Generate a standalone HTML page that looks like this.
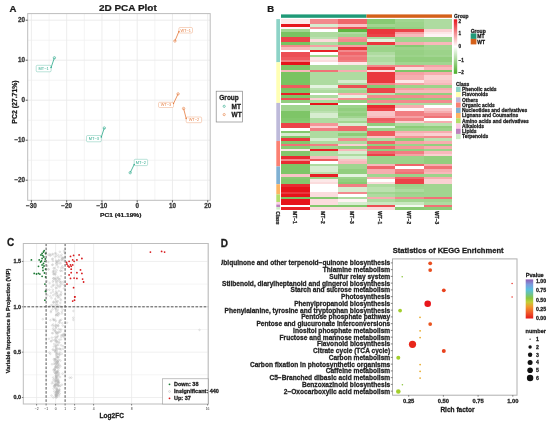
<!DOCTYPE html>
<html><head><meta charset="utf-8"><style>
html,body{margin:0;padding:0;background:#fff;}
svg{display:block;will-change:transform;font-family:"Liberation Sans", sans-serif;}
</style></head><body>
<svg width="550" height="422" viewBox="0 0 550 422">
<rect width="550" height="422" fill="#fff"/>
<g transform="translate(9.50,9.30) scale(1,0.92)">
<text x="0.00" y="3.46" font-size="9.6" font-weight="bold" text-anchor="start" fill="#1a1a1a" stroke="#1a1a1a" stroke-width="0.26" >A</text>
</g>
<g transform="translate(98.90,8.10) scale(1,0.85)">
<text x="0.00" y="3.60" font-size="10" font-weight="bold" text-anchor="start" fill="#1a1a1a" stroke="#1a1a1a" stroke-width="0.26" >2D PCA Plot</text>
</g>
<rect x="27.70" y="13.60" width="182.50" height="186.70" fill="#ffffff" stroke="none" stroke-width="1" />
<line x1="49.05" y1="13.60" x2="49.05" y2="200.30" stroke="#f1f1f1" stroke-width="0.8" />
<line x1="84.31" y1="13.60" x2="84.31" y2="200.30" stroke="#f1f1f1" stroke-width="0.8" />
<line x1="119.57" y1="13.60" x2="119.57" y2="200.30" stroke="#f1f1f1" stroke-width="0.8" />
<line x1="154.83" y1="13.60" x2="154.83" y2="200.30" stroke="#f1f1f1" stroke-width="0.8" />
<line x1="190.09" y1="13.60" x2="190.09" y2="200.30" stroke="#f1f1f1" stroke-width="0.8" />
<line x1="27.70" y1="160.20" x2="210.20" y2="160.20" stroke="#f1f1f1" stroke-width="0.8" />
<line x1="27.70" y1="120.20" x2="210.20" y2="120.20" stroke="#f1f1f1" stroke-width="0.8" />
<line x1="27.70" y1="80.20" x2="210.20" y2="80.20" stroke="#f1f1f1" stroke-width="0.8" />
<line x1="27.70" y1="40.20" x2="210.20" y2="40.20" stroke="#f1f1f1" stroke-width="0.8" />
<line x1="31.42" y1="13.60" x2="31.42" y2="200.30" stroke="#ebebeb" stroke-width="0.9" />
<line x1="66.68" y1="13.60" x2="66.68" y2="200.30" stroke="#ebebeb" stroke-width="0.9" />
<line x1="101.94" y1="13.60" x2="101.94" y2="200.30" stroke="#ebebeb" stroke-width="0.9" />
<line x1="137.20" y1="13.60" x2="137.20" y2="200.30" stroke="#ebebeb" stroke-width="0.9" />
<line x1="172.46" y1="13.60" x2="172.46" y2="200.30" stroke="#ebebeb" stroke-width="0.9" />
<line x1="207.72" y1="13.60" x2="207.72" y2="200.30" stroke="#ebebeb" stroke-width="0.9" />
<line x1="27.70" y1="180.20" x2="210.20" y2="180.20" stroke="#ebebeb" stroke-width="0.9" />
<line x1="27.70" y1="140.20" x2="210.20" y2="140.20" stroke="#ebebeb" stroke-width="0.9" />
<line x1="27.70" y1="100.20" x2="210.20" y2="100.20" stroke="#ebebeb" stroke-width="0.9" />
<line x1="27.70" y1="60.20" x2="210.20" y2="60.20" stroke="#ebebeb" stroke-width="0.9" />
<line x1="27.70" y1="20.20" x2="210.20" y2="20.20" stroke="#ebebeb" stroke-width="0.9" />
<rect x="27.70" y="13.60" width="182.50" height="186.70" fill="none" stroke="#bdbdbd" stroke-width="1.0" />
<line x1="31.42" y1="200.30" x2="31.42" y2="202.30" stroke="#333" stroke-width="0.8" />
<text x="31.42" y="208.27" font-size="6.3" font-weight="bold" text-anchor="middle" fill="#333" stroke="#333" stroke-width="0.26" >−30</text>
<line x1="66.68" y1="200.30" x2="66.68" y2="202.30" stroke="#333" stroke-width="0.8" />
<text x="66.68" y="208.27" font-size="6.3" font-weight="bold" text-anchor="middle" fill="#333" stroke="#333" stroke-width="0.26" >−20</text>
<line x1="101.94" y1="200.30" x2="101.94" y2="202.30" stroke="#333" stroke-width="0.8" />
<text x="101.94" y="208.27" font-size="6.3" font-weight="bold" text-anchor="middle" fill="#333" stroke="#333" stroke-width="0.26" >−10</text>
<line x1="137.20" y1="200.30" x2="137.20" y2="202.30" stroke="#333" stroke-width="0.8" />
<text x="137.20" y="208.27" font-size="6.3" font-weight="bold" text-anchor="middle" fill="#333" stroke="#333" stroke-width="0.26" >0</text>
<line x1="172.46" y1="200.30" x2="172.46" y2="202.30" stroke="#333" stroke-width="0.8" />
<text x="172.46" y="208.27" font-size="6.3" font-weight="bold" text-anchor="middle" fill="#333" stroke="#333" stroke-width="0.26" >10</text>
<line x1="207.72" y1="200.30" x2="207.72" y2="202.30" stroke="#333" stroke-width="0.8" />
<text x="207.72" y="208.27" font-size="6.3" font-weight="bold" text-anchor="middle" fill="#333" stroke="#333" stroke-width="0.26" >20</text>
<line x1="25.70" y1="180.20" x2="27.70" y2="180.20" stroke="#333" stroke-width="0.8" />
<text x="25.10" y="182.47" font-size="6.3" font-weight="bold" text-anchor="end" fill="#333" stroke="#333" stroke-width="0.26" >−20</text>
<line x1="25.70" y1="140.20" x2="27.70" y2="140.20" stroke="#333" stroke-width="0.8" />
<text x="25.10" y="142.47" font-size="6.3" font-weight="bold" text-anchor="end" fill="#333" stroke="#333" stroke-width="0.26" >−10</text>
<line x1="25.70" y1="100.20" x2="27.70" y2="100.20" stroke="#333" stroke-width="0.8" />
<text x="25.10" y="102.47" font-size="6.3" font-weight="bold" text-anchor="end" fill="#333" stroke="#333" stroke-width="0.26" >0</text>
<line x1="25.70" y1="60.20" x2="27.70" y2="60.20" stroke="#333" stroke-width="0.8" />
<text x="25.10" y="62.47" font-size="6.3" font-weight="bold" text-anchor="end" fill="#333" stroke="#333" stroke-width="0.26" >10</text>
<line x1="25.70" y1="20.20" x2="27.70" y2="20.20" stroke="#333" stroke-width="0.8" />
<text x="25.10" y="22.47" font-size="6.3" font-weight="bold" text-anchor="end" fill="#333" stroke="#333" stroke-width="0.26" >20</text>
<g transform="translate(120.70,214.70) scale(1,0.88)">
<text x="0.00" y="2.38" font-size="6.6" font-weight="bold" text-anchor="middle" fill="#1a1a1a" stroke="#1a1a1a" stroke-width="0.26" >PC1 (41.19%)</text>
</g>
<g transform="translate(14.2,102) rotate(-90)">
<text x="0.00" y="2.48" font-size="6.9" font-weight="bold" text-anchor="middle" fill="#1a1a1a" stroke="#1a1a1a" stroke-width="0.26" >PC2 (27.71%)</text>
</g>
<rect x="36.20" y="65.30" width="14.90" height="6.50" rx="1.2" fill="#fff" stroke="#2aa889" stroke-opacity="0.55" stroke-width="0.6"/>
<text x="43.65" y="69.95" font-size="3.9" font-weight="normal" text-anchor="middle" fill="#2aa889"  >MT−1</text>
<line x1="51.10" y1="67.50" x2="54.40" y2="57.80" stroke="#2aa889" stroke-width="0.8" />
<circle cx="51.10" cy="67.50" r="0.70" fill="#2aa889" stroke="none" stroke-width="1"/>
<circle cx="54.40" cy="57.80" r="1.20" fill="none" stroke="#2aa889" stroke-width="0.6"/>
<rect x="134.20" y="159.30" width="13.40" height="6.30" rx="1.2" fill="#fff" stroke="#2aa889" stroke-opacity="0.55" stroke-width="0.6"/>
<text x="140.90" y="163.85" font-size="3.9" font-weight="normal" text-anchor="middle" fill="#2aa889"  >MT−2</text>
<line x1="134.20" y1="164.50" x2="130.20" y2="172.70" stroke="#2aa889" stroke-width="0.8" />
<circle cx="134.20" cy="164.50" r="0.70" fill="#2aa889" stroke="none" stroke-width="1"/>
<circle cx="130.20" cy="172.70" r="1.20" fill="none" stroke="#2aa889" stroke-width="0.6"/>
<rect x="86.50" y="135.50" width="14.80" height="6.30" rx="1.2" fill="#fff" stroke="#2aa889" stroke-opacity="0.55" stroke-width="0.6"/>
<text x="93.90" y="140.05" font-size="3.9" font-weight="normal" text-anchor="middle" fill="#2aa889"  >MT−3</text>
<line x1="101.30" y1="137.00" x2="104.30" y2="128.00" stroke="#2aa889" stroke-width="0.8" />
<circle cx="101.30" cy="137.00" r="0.70" fill="#2aa889" stroke="none" stroke-width="1"/>
<circle cx="104.30" cy="128.00" r="1.20" fill="none" stroke="#2aa889" stroke-width="0.6"/>
<rect x="178.90" y="27.50" width="13.60" height="5.50" rx="1.2" fill="#fff" stroke="#e57a3c" stroke-opacity="0.55" stroke-width="0.6"/>
<text x="185.70" y="31.65" font-size="3.9" font-weight="normal" text-anchor="middle" fill="#e57a3c"  >WT−1</text>
<line x1="178.90" y1="31.50" x2="174.90" y2="41.00" stroke="#e57a3c" stroke-width="0.8" />
<circle cx="178.90" cy="31.50" r="0.70" fill="#e57a3c" stroke="none" stroke-width="1"/>
<circle cx="174.90" cy="41.00" r="1.20" fill="none" stroke="#e57a3c" stroke-width="0.6"/>
<rect x="186.20" y="117.00" width="15.40" height="5.70" rx="1.2" fill="#fff" stroke="#e57a3c" stroke-opacity="0.55" stroke-width="0.6"/>
<text x="193.90" y="121.25" font-size="3.9" font-weight="normal" text-anchor="middle" fill="#e57a3c"  >WT−2</text>
<line x1="186.20" y1="118.50" x2="183.60" y2="108.50" stroke="#e57a3c" stroke-width="0.8" />
<circle cx="186.20" cy="118.50" r="0.70" fill="#e57a3c" stroke="none" stroke-width="1"/>
<circle cx="183.60" cy="108.50" r="1.20" fill="none" stroke="#e57a3c" stroke-width="0.6"/>
<rect x="158.50" y="102.30" width="15.00" height="5.20" rx="1.2" fill="#fff" stroke="#e57a3c" stroke-opacity="0.55" stroke-width="0.6"/>
<text x="166.00" y="106.30" font-size="3.9" font-weight="normal" text-anchor="middle" fill="#e57a3c"  >WT−3</text>
<line x1="173.50" y1="103.50" x2="178.10" y2="93.90" stroke="#e57a3c" stroke-width="0.8" />
<circle cx="173.50" cy="103.50" r="0.70" fill="#e57a3c" stroke="none" stroke-width="1"/>
<circle cx="178.10" cy="93.90" r="1.20" fill="none" stroke="#e57a3c" stroke-width="0.6"/>
<rect x="216.20" y="91.20" width="26.20" height="30.80" fill="#fff" stroke="#888" stroke-width="0.7" />
<text x="219.30" y="99.54" font-size="6.5" font-weight="bold" text-anchor="start" fill="#1a1a1a" stroke="#1a1a1a" stroke-width="0.26" >Group</text>
<circle cx="224.20" cy="106.30" r="1.10" fill="none" stroke="#2aa889" stroke-width="0.6"/>
<circle cx="224.20" cy="114.60" r="1.10" fill="none" stroke="#e57a3c" stroke-width="0.6"/>
<text x="231.60" y="108.64" font-size="6.5" font-weight="bold" text-anchor="start" fill="#1a1a1a" stroke="#1a1a1a" stroke-width="0.26" >MT</text>
<text x="231.60" y="116.94" font-size="6.5" font-weight="bold" text-anchor="start" fill="#1a1a1a" stroke="#1a1a1a" stroke-width="0.26" >WT</text>
<g transform="translate(267.20,9.00) scale(1,0.92)">
<text x="0.00" y="3.42" font-size="9.5" font-weight="bold" text-anchor="start" fill="#1a1a1a" stroke="#1a1a1a" stroke-width="0.26" >B</text>
</g>
<g shape-rendering="crispEdges">
<rect x="281.00" y="19.10" width="28.80" height="2.84" fill="#fce8e8" stroke="none" stroke-width="1" />
<rect x="281.00" y="21.64" width="28.80" height="2.84" fill="#fce8e8" stroke="none" stroke-width="1" />
<rect x="281.00" y="24.18" width="28.80" height="2.84" fill="#e6141b" stroke="none" stroke-width="1" />
<rect x="281.00" y="26.72" width="28.80" height="2.84" fill="#fef3f4" stroke="none" stroke-width="1" />
<rect x="281.00" y="29.26" width="28.80" height="2.84" fill="#a1d590" stroke="none" stroke-width="1" />
<rect x="281.00" y="31.80" width="28.80" height="2.84" fill="#79c361" stroke="none" stroke-width="1" />
<rect x="281.00" y="34.34" width="28.80" height="2.84" fill="#79c361" stroke="none" stroke-width="1" />
<rect x="281.00" y="36.88" width="28.80" height="2.84" fill="#eb4349" stroke="none" stroke-width="1" />
<rect x="281.00" y="39.42" width="28.80" height="2.84" fill="#eb4349" stroke="none" stroke-width="1" />
<rect x="281.00" y="41.96" width="28.80" height="2.84" fill="#79c361" stroke="none" stroke-width="1" />
<rect x="281.00" y="44.50" width="28.80" height="2.84" fill="#f28a8d" stroke="none" stroke-width="1" />
<rect x="281.00" y="47.04" width="28.80" height="2.84" fill="#f8b8bb" stroke="none" stroke-width="1" />
<rect x="281.00" y="49.58" width="28.80" height="2.84" fill="#ffffff" stroke="none" stroke-width="1" />
<rect x="281.00" y="52.12" width="28.80" height="2.84" fill="#ec4f54" stroke="none" stroke-width="1" />
<rect x="281.00" y="54.66" width="28.80" height="2.84" fill="#ec4f54" stroke="none" stroke-width="1" />
<rect x="281.00" y="57.20" width="28.80" height="2.84" fill="#ee5a5f" stroke="none" stroke-width="1" />
<rect x="281.00" y="59.74" width="28.80" height="2.84" fill="#f17e82" stroke="none" stroke-width="1" />
<rect x="281.00" y="62.28" width="28.80" height="2.84" fill="#e6141b" stroke="none" stroke-width="1" />
<rect x="281.00" y="64.82" width="28.80" height="2.84" fill="#7ec567" stroke="none" stroke-width="1" />
<rect x="281.00" y="67.36" width="28.80" height="2.84" fill="#7ec567" stroke="none" stroke-width="1" />
<rect x="281.00" y="69.90" width="28.80" height="2.84" fill="#f8b8bb" stroke="none" stroke-width="1" />
<rect x="281.00" y="72.44" width="28.80" height="2.84" fill="#79c361" stroke="none" stroke-width="1" />
<rect x="281.00" y="74.98" width="28.80" height="2.84" fill="#79c361" stroke="none" stroke-width="1" />
<rect x="281.00" y="77.52" width="28.80" height="2.84" fill="#79c361" stroke="none" stroke-width="1" />
<rect x="281.00" y="80.06" width="28.80" height="2.84" fill="#79c361" stroke="none" stroke-width="1" />
<rect x="281.00" y="82.60" width="28.80" height="2.84" fill="#79c361" stroke="none" stroke-width="1" />
<rect x="281.00" y="85.14" width="28.80" height="2.84" fill="#ee5a5f" stroke="none" stroke-width="1" />
<rect x="281.00" y="87.68" width="28.80" height="2.84" fill="#79c361" stroke="none" stroke-width="1" />
<rect x="281.00" y="90.22" width="28.80" height="2.84" fill="#7ec567" stroke="none" stroke-width="1" />
<rect x="281.00" y="92.76" width="28.80" height="2.84" fill="#e72026" stroke="none" stroke-width="1" />
<rect x="281.00" y="95.30" width="28.80" height="2.84" fill="#7ec567" stroke="none" stroke-width="1" />
<rect x="281.00" y="97.84" width="28.80" height="2.84" fill="#ec4f54" stroke="none" stroke-width="1" />
<rect x="281.00" y="100.38" width="28.80" height="2.84" fill="#92ce7e" stroke="none" stroke-width="1" />
<rect x="281.00" y="102.92" width="28.80" height="2.84" fill="#ffffff" stroke="none" stroke-width="1" />
<rect x="281.00" y="105.46" width="28.80" height="2.84" fill="#a1d590" stroke="none" stroke-width="1" />
<rect x="281.00" y="108.00" width="28.80" height="2.84" fill="#a1d590" stroke="none" stroke-width="1" />
<rect x="281.00" y="110.54" width="28.80" height="2.84" fill="#7ec567" stroke="none" stroke-width="1" />
<rect x="281.00" y="113.08" width="28.80" height="2.84" fill="#7ec567" stroke="none" stroke-width="1" />
<rect x="281.00" y="115.62" width="28.80" height="2.84" fill="#7ec567" stroke="none" stroke-width="1" />
<rect x="281.00" y="118.16" width="28.80" height="2.84" fill="#83c86d" stroke="none" stroke-width="1" />
<rect x="281.00" y="120.70" width="28.80" height="2.84" fill="#88ca73" stroke="none" stroke-width="1" />
<rect x="281.00" y="123.24" width="28.80" height="2.84" fill="#eb4349" stroke="none" stroke-width="1" />
<rect x="281.00" y="125.78" width="28.80" height="2.84" fill="#eb4349" stroke="none" stroke-width="1" />
<rect x="281.00" y="128.32" width="28.80" height="2.84" fill="#ffffff" stroke="none" stroke-width="1" />
<rect x="281.00" y="130.86" width="28.80" height="2.84" fill="#83c86d" stroke="none" stroke-width="1" />
<rect x="281.00" y="133.40" width="28.80" height="2.84" fill="#d7edd0" stroke="none" stroke-width="1" />
<rect x="281.00" y="135.94" width="28.80" height="2.84" fill="#83c86d" stroke="none" stroke-width="1" />
<rect x="281.00" y="138.48" width="28.80" height="2.84" fill="#ea373d" stroke="none" stroke-width="1" />
<rect x="281.00" y="141.02" width="28.80" height="2.84" fill="#83c86d" stroke="none" stroke-width="1" />
<rect x="281.00" y="143.56" width="28.80" height="2.84" fill="#f07276" stroke="none" stroke-width="1" />
<rect x="281.00" y="146.10" width="28.80" height="2.84" fill="#88ca73" stroke="none" stroke-width="1" />
<rect x="281.00" y="148.64" width="28.80" height="2.84" fill="#fce8e8" stroke="none" stroke-width="1" />
<rect x="281.00" y="151.18" width="28.80" height="2.84" fill="#83c86d" stroke="none" stroke-width="1" />
<rect x="281.00" y="153.72" width="28.80" height="2.84" fill="#83c86d" stroke="none" stroke-width="1" />
<rect x="281.00" y="156.26" width="28.80" height="2.84" fill="#e82c32" stroke="none" stroke-width="1" />
<rect x="281.00" y="158.80" width="28.80" height="2.84" fill="#f28a8d" stroke="none" stroke-width="1" />
<rect x="281.00" y="161.34" width="28.80" height="2.84" fill="#e82c32" stroke="none" stroke-width="1" />
<rect x="281.00" y="163.88" width="28.80" height="2.84" fill="#7ec567" stroke="none" stroke-width="1" />
<rect x="281.00" y="166.42" width="28.80" height="2.84" fill="#7ec567" stroke="none" stroke-width="1" />
<rect x="281.00" y="168.96" width="28.80" height="2.84" fill="#7ec567" stroke="none" stroke-width="1" />
<rect x="281.00" y="171.50" width="28.80" height="2.84" fill="#7ec567" stroke="none" stroke-width="1" />
<rect x="281.00" y="174.04" width="28.80" height="2.84" fill="#f9c4c6" stroke="none" stroke-width="1" />
<rect x="281.00" y="176.58" width="28.80" height="2.84" fill="#88ca73" stroke="none" stroke-width="1" />
<rect x="281.00" y="179.12" width="28.80" height="2.84" fill="#83c86d" stroke="none" stroke-width="1" />
<rect x="281.00" y="181.66" width="28.80" height="2.84" fill="#83c86d" stroke="none" stroke-width="1" />
<rect x="281.00" y="184.20" width="28.80" height="2.84" fill="#e82c32" stroke="none" stroke-width="1" />
<rect x="281.00" y="186.74" width="28.80" height="2.84" fill="#e6141b" stroke="none" stroke-width="1" />
<rect x="281.00" y="189.28" width="28.80" height="2.84" fill="#e6141b" stroke="none" stroke-width="1" />
<rect x="281.00" y="191.82" width="28.80" height="2.84" fill="#ea373d" stroke="none" stroke-width="1" />
<rect x="281.00" y="194.36" width="28.80" height="2.84" fill="#e6141b" stroke="none" stroke-width="1" />
<rect x="281.00" y="196.90" width="28.80" height="2.84" fill="#7ec567" stroke="none" stroke-width="1" />
<rect x="281.00" y="199.44" width="28.80" height="2.84" fill="#e6141b" stroke="none" stroke-width="1" />
<rect x="281.00" y="201.98" width="28.80" height="2.84" fill="#e6141b" stroke="none" stroke-width="1" />
<rect x="281.00" y="204.52" width="28.80" height="2.84" fill="#ffffff" stroke="none" stroke-width="1" />
<rect x="281.00" y="207.06" width="28.80" height="2.84" fill="#e72026" stroke="none" stroke-width="1" />
<rect x="309.50" y="19.10" width="28.80" height="2.84" fill="#f28a8d" stroke="none" stroke-width="1" />
<rect x="309.50" y="21.64" width="28.80" height="2.84" fill="#f28a8d" stroke="none" stroke-width="1" />
<rect x="309.50" y="24.18" width="28.80" height="2.84" fill="#d7edd0" stroke="none" stroke-width="1" />
<rect x="309.50" y="26.72" width="28.80" height="2.84" fill="#f49598" stroke="none" stroke-width="1" />
<rect x="309.50" y="29.26" width="28.80" height="2.84" fill="#ffffff" stroke="none" stroke-width="1" />
<rect x="309.50" y="31.80" width="28.80" height="2.84" fill="#aedba0" stroke="none" stroke-width="1" />
<rect x="309.50" y="34.34" width="28.80" height="2.84" fill="#aedba0" stroke="none" stroke-width="1" />
<rect x="309.50" y="36.88" width="28.80" height="2.84" fill="#bce1b0" stroke="none" stroke-width="1" />
<rect x="309.50" y="39.42" width="28.80" height="2.84" fill="#fbdcdd" stroke="none" stroke-width="1" />
<rect x="309.50" y="41.96" width="28.80" height="2.84" fill="#aedba0" stroke="none" stroke-width="1" />
<rect x="309.50" y="44.50" width="28.80" height="2.84" fill="#f5a1a4" stroke="none" stroke-width="1" />
<rect x="309.50" y="47.04" width="28.80" height="2.84" fill="#c9e7c0" stroke="none" stroke-width="1" />
<rect x="309.50" y="49.58" width="28.80" height="2.84" fill="#e72026" stroke="none" stroke-width="1" />
<rect x="309.50" y="52.12" width="28.80" height="2.84" fill="#ffffff" stroke="none" stroke-width="1" />
<rect x="309.50" y="54.66" width="28.80" height="2.84" fill="#a1d590" stroke="none" stroke-width="1" />
<rect x="309.50" y="57.20" width="28.80" height="2.84" fill="#fce8e8" stroke="none" stroke-width="1" />
<rect x="309.50" y="59.74" width="28.80" height="2.84" fill="#fbdcdd" stroke="none" stroke-width="1" />
<rect x="309.50" y="62.28" width="28.80" height="2.84" fill="#ffffff" stroke="none" stroke-width="1" />
<rect x="309.50" y="64.82" width="28.80" height="2.84" fill="#aedba0" stroke="none" stroke-width="1" />
<rect x="309.50" y="67.36" width="28.80" height="2.84" fill="#aedba0" stroke="none" stroke-width="1" />
<rect x="309.50" y="69.90" width="28.80" height="2.84" fill="#f07276" stroke="none" stroke-width="1" />
<rect x="309.50" y="72.44" width="28.80" height="2.84" fill="#aedba0" stroke="none" stroke-width="1" />
<rect x="309.50" y="74.98" width="28.80" height="2.84" fill="#aedba0" stroke="none" stroke-width="1" />
<rect x="309.50" y="77.52" width="28.80" height="2.84" fill="#aedba0" stroke="none" stroke-width="1" />
<rect x="309.50" y="80.06" width="28.80" height="2.84" fill="#aedba0" stroke="none" stroke-width="1" />
<rect x="309.50" y="82.60" width="28.80" height="2.84" fill="#aedba0" stroke="none" stroke-width="1" />
<rect x="309.50" y="85.14" width="28.80" height="2.84" fill="#e4f3df" stroke="none" stroke-width="1" />
<rect x="309.50" y="87.68" width="28.80" height="2.84" fill="#bce1b0" stroke="none" stroke-width="1" />
<rect x="309.50" y="90.22" width="28.80" height="2.84" fill="#aedba0" stroke="none" stroke-width="1" />
<rect x="309.50" y="92.76" width="28.80" height="2.84" fill="#ffffff" stroke="none" stroke-width="1" />
<rect x="309.50" y="95.30" width="28.80" height="2.84" fill="#aedba0" stroke="none" stroke-width="1" />
<rect x="309.50" y="97.84" width="28.80" height="2.84" fill="#fad0d1" stroke="none" stroke-width="1" />
<rect x="309.50" y="100.38" width="28.80" height="2.84" fill="#aedba0" stroke="none" stroke-width="1" />
<rect x="309.50" y="102.92" width="28.80" height="2.84" fill="#e6141b" stroke="none" stroke-width="1" />
<rect x="309.50" y="105.46" width="28.80" height="2.84" fill="#aedba0" stroke="none" stroke-width="1" />
<rect x="309.50" y="108.00" width="28.80" height="2.84" fill="#aedba0" stroke="none" stroke-width="1" />
<rect x="309.50" y="110.54" width="28.80" height="2.84" fill="#bce1b0" stroke="none" stroke-width="1" />
<rect x="309.50" y="113.08" width="28.80" height="2.84" fill="#d7edd0" stroke="none" stroke-width="1" />
<rect x="309.50" y="115.62" width="28.80" height="2.84" fill="#d7edd0" stroke="none" stroke-width="1" />
<rect x="309.50" y="118.16" width="28.80" height="2.84" fill="#aedba0" stroke="none" stroke-width="1" />
<rect x="309.50" y="120.70" width="28.80" height="2.84" fill="#aedba0" stroke="none" stroke-width="1" />
<rect x="309.50" y="123.24" width="28.80" height="2.84" fill="#f49598" stroke="none" stroke-width="1" />
<rect x="309.50" y="125.78" width="28.80" height="2.84" fill="#fad0d1" stroke="none" stroke-width="1" />
<rect x="309.50" y="128.32" width="28.80" height="2.84" fill="#f17e82" stroke="none" stroke-width="1" />
<rect x="309.50" y="130.86" width="28.80" height="2.84" fill="#aedba0" stroke="none" stroke-width="1" />
<rect x="309.50" y="133.40" width="28.80" height="2.84" fill="#aedba0" stroke="none" stroke-width="1" />
<rect x="309.50" y="135.94" width="28.80" height="2.84" fill="#aedba0" stroke="none" stroke-width="1" />
<rect x="309.50" y="138.48" width="28.80" height="2.84" fill="#d7edd0" stroke="none" stroke-width="1" />
<rect x="309.50" y="141.02" width="28.80" height="2.84" fill="#aedba0" stroke="none" stroke-width="1" />
<rect x="309.50" y="143.56" width="28.80" height="2.84" fill="#f17e82" stroke="none" stroke-width="1" />
<rect x="309.50" y="146.10" width="28.80" height="2.84" fill="#a1d590" stroke="none" stroke-width="1" />
<rect x="309.50" y="148.64" width="28.80" height="2.84" fill="#e72026" stroke="none" stroke-width="1" />
<rect x="309.50" y="151.18" width="28.80" height="2.84" fill="#aedba0" stroke="none" stroke-width="1" />
<rect x="309.50" y="153.72" width="28.80" height="2.84" fill="#aedba0" stroke="none" stroke-width="1" />
<rect x="309.50" y="156.26" width="28.80" height="2.84" fill="#f8b8bb" stroke="none" stroke-width="1" />
<rect x="309.50" y="158.80" width="28.80" height="2.84" fill="#ee5a5f" stroke="none" stroke-width="1" />
<rect x="309.50" y="161.34" width="28.80" height="2.84" fill="#ffffff" stroke="none" stroke-width="1" />
<rect x="309.50" y="163.88" width="28.80" height="2.84" fill="#aedba0" stroke="none" stroke-width="1" />
<rect x="309.50" y="166.42" width="28.80" height="2.84" fill="#d7edd0" stroke="none" stroke-width="1" />
<rect x="309.50" y="168.96" width="28.80" height="2.84" fill="#d7edd0" stroke="none" stroke-width="1" />
<rect x="309.50" y="171.50" width="28.80" height="2.84" fill="#bce1b0" stroke="none" stroke-width="1" />
<rect x="309.50" y="174.04" width="28.80" height="2.84" fill="#e72026" stroke="none" stroke-width="1" />
<rect x="309.50" y="176.58" width="28.80" height="2.84" fill="#9cd38a" stroke="none" stroke-width="1" />
<rect x="309.50" y="179.12" width="28.80" height="2.84" fill="#fce8e8" stroke="none" stroke-width="1" />
<rect x="309.50" y="181.66" width="28.80" height="2.84" fill="#fbdcdd" stroke="none" stroke-width="1" />
<rect x="309.50" y="184.20" width="28.80" height="2.84" fill="#ffffff" stroke="none" stroke-width="1" />
<rect x="309.50" y="186.74" width="28.80" height="2.84" fill="#ffffff" stroke="none" stroke-width="1" />
<rect x="309.50" y="189.28" width="28.80" height="2.84" fill="#ffffff" stroke="none" stroke-width="1" />
<rect x="309.50" y="191.82" width="28.80" height="2.84" fill="#fbdcdd" stroke="none" stroke-width="1" />
<rect x="309.50" y="194.36" width="28.80" height="2.84" fill="#fbdcdd" stroke="none" stroke-width="1" />
<rect x="309.50" y="196.90" width="28.80" height="2.84" fill="#83c86d" stroke="none" stroke-width="1" />
<rect x="309.50" y="199.44" width="28.80" height="2.84" fill="#fbdcdd" stroke="none" stroke-width="1" />
<rect x="309.50" y="201.98" width="28.80" height="2.84" fill="#fbdcdd" stroke="none" stroke-width="1" />
<rect x="309.50" y="204.52" width="28.80" height="2.84" fill="#83c86d" stroke="none" stroke-width="1" />
<rect x="309.50" y="207.06" width="28.80" height="2.84" fill="#fbdcdd" stroke="none" stroke-width="1" />
<rect x="338.00" y="19.10" width="28.80" height="2.84" fill="#ef666b" stroke="none" stroke-width="1" />
<rect x="338.00" y="21.64" width="28.80" height="2.84" fill="#ef666b" stroke="none" stroke-width="1" />
<rect x="338.00" y="24.18" width="28.80" height="2.84" fill="#f9c4c6" stroke="none" stroke-width="1" />
<rect x="338.00" y="26.72" width="28.80" height="2.84" fill="#ec4f54" stroke="none" stroke-width="1" />
<rect x="338.00" y="29.26" width="28.80" height="2.84" fill="#5eb741" stroke="none" stroke-width="1" />
<rect x="338.00" y="31.80" width="28.80" height="2.84" fill="#aedba0" stroke="none" stroke-width="1" />
<rect x="338.00" y="34.34" width="28.80" height="2.84" fill="#a1d590" stroke="none" stroke-width="1" />
<rect x="338.00" y="36.88" width="28.80" height="2.84" fill="#f49598" stroke="none" stroke-width="1" />
<rect x="338.00" y="39.42" width="28.80" height="2.84" fill="#f28a8d" stroke="none" stroke-width="1" />
<rect x="338.00" y="41.96" width="28.80" height="2.84" fill="#88ca73" stroke="none" stroke-width="1" />
<rect x="338.00" y="44.50" width="28.80" height="2.84" fill="#f5a1a4" stroke="none" stroke-width="1" />
<rect x="338.00" y="47.04" width="28.80" height="2.84" fill="#ea373d" stroke="none" stroke-width="1" />
<rect x="338.00" y="49.58" width="28.80" height="2.84" fill="#f28a8d" stroke="none" stroke-width="1" />
<rect x="338.00" y="52.12" width="28.80" height="2.84" fill="#ef666b" stroke="none" stroke-width="1" />
<rect x="338.00" y="54.66" width="28.80" height="2.84" fill="#f17e82" stroke="none" stroke-width="1" />
<rect x="338.00" y="57.20" width="28.80" height="2.84" fill="#f07276" stroke="none" stroke-width="1" />
<rect x="338.00" y="59.74" width="28.80" height="2.84" fill="#f17e82" stroke="none" stroke-width="1" />
<rect x="338.00" y="62.28" width="28.80" height="2.84" fill="#fce8e8" stroke="none" stroke-width="1" />
<rect x="338.00" y="64.82" width="28.80" height="2.84" fill="#aedba0" stroke="none" stroke-width="1" />
<rect x="338.00" y="67.36" width="28.80" height="2.84" fill="#aedba0" stroke="none" stroke-width="1" />
<rect x="338.00" y="69.90" width="28.80" height="2.84" fill="#f6adaf" stroke="none" stroke-width="1" />
<rect x="338.00" y="72.44" width="28.80" height="2.84" fill="#aedba0" stroke="none" stroke-width="1" />
<rect x="338.00" y="74.98" width="28.80" height="2.84" fill="#aedba0" stroke="none" stroke-width="1" />
<rect x="338.00" y="77.52" width="28.80" height="2.84" fill="#aedba0" stroke="none" stroke-width="1" />
<rect x="338.00" y="80.06" width="28.80" height="2.84" fill="#d7edd0" stroke="none" stroke-width="1" />
<rect x="338.00" y="82.60" width="28.80" height="2.84" fill="#aedba0" stroke="none" stroke-width="1" />
<rect x="338.00" y="85.14" width="28.80" height="2.84" fill="#ec4f54" stroke="none" stroke-width="1" />
<rect x="338.00" y="87.68" width="28.80" height="2.84" fill="#aedba0" stroke="none" stroke-width="1" />
<rect x="338.00" y="90.22" width="28.80" height="2.84" fill="#a1d590" stroke="none" stroke-width="1" />
<rect x="338.00" y="92.76" width="28.80" height="2.84" fill="#f6adaf" stroke="none" stroke-width="1" />
<rect x="338.00" y="95.30" width="28.80" height="2.84" fill="#e4f3df" stroke="none" stroke-width="1" />
<rect x="338.00" y="97.84" width="28.80" height="2.84" fill="#f28a8d" stroke="none" stroke-width="1" />
<rect x="338.00" y="100.38" width="28.80" height="2.84" fill="#92ce7e" stroke="none" stroke-width="1" />
<rect x="338.00" y="102.92" width="28.80" height="2.84" fill="#ffffff" stroke="none" stroke-width="1" />
<rect x="338.00" y="105.46" width="28.80" height="2.84" fill="#9cd38a" stroke="none" stroke-width="1" />
<rect x="338.00" y="108.00" width="28.80" height="2.84" fill="#92ce7e" stroke="none" stroke-width="1" />
<rect x="338.00" y="110.54" width="28.80" height="2.84" fill="#9cd38a" stroke="none" stroke-width="1" />
<rect x="338.00" y="113.08" width="28.80" height="2.84" fill="#92ce7e" stroke="none" stroke-width="1" />
<rect x="338.00" y="115.62" width="28.80" height="2.84" fill="#a1d590" stroke="none" stroke-width="1" />
<rect x="338.00" y="118.16" width="28.80" height="2.84" fill="#bce1b0" stroke="none" stroke-width="1" />
<rect x="338.00" y="120.70" width="28.80" height="2.84" fill="#a1d590" stroke="none" stroke-width="1" />
<rect x="338.00" y="123.24" width="28.80" height="2.84" fill="#d7edd0" stroke="none" stroke-width="1" />
<rect x="338.00" y="125.78" width="28.80" height="2.84" fill="#ef666b" stroke="none" stroke-width="1" />
<rect x="338.00" y="128.32" width="28.80" height="2.84" fill="#ef666b" stroke="none" stroke-width="1" />
<rect x="338.00" y="130.86" width="28.80" height="2.84" fill="#aedba0" stroke="none" stroke-width="1" />
<rect x="338.00" y="133.40" width="28.80" height="2.84" fill="#8dcc78" stroke="none" stroke-width="1" />
<rect x="338.00" y="135.94" width="28.80" height="2.84" fill="#aedba0" stroke="none" stroke-width="1" />
<rect x="338.00" y="138.48" width="28.80" height="2.84" fill="#f28a8d" stroke="none" stroke-width="1" />
<rect x="338.00" y="141.02" width="28.80" height="2.84" fill="#aedba0" stroke="none" stroke-width="1" />
<rect x="338.00" y="143.56" width="28.80" height="2.84" fill="#fad0d1" stroke="none" stroke-width="1" />
<rect x="338.00" y="146.10" width="28.80" height="2.84" fill="#92ce7e" stroke="none" stroke-width="1" />
<rect x="338.00" y="148.64" width="28.80" height="2.84" fill="#f8b8bb" stroke="none" stroke-width="1" />
<rect x="338.00" y="151.18" width="28.80" height="2.84" fill="#d7edd0" stroke="none" stroke-width="1" />
<rect x="338.00" y="153.72" width="28.80" height="2.84" fill="#aedba0" stroke="none" stroke-width="1" />
<rect x="338.00" y="156.26" width="28.80" height="2.84" fill="#d7edd0" stroke="none" stroke-width="1" />
<rect x="338.00" y="158.80" width="28.80" height="2.84" fill="#f9c4c6" stroke="none" stroke-width="1" />
<rect x="338.00" y="161.34" width="28.80" height="2.84" fill="#f8b8bb" stroke="none" stroke-width="1" />
<rect x="338.00" y="163.88" width="28.80" height="2.84" fill="#a1d590" stroke="none" stroke-width="1" />
<rect x="338.00" y="166.42" width="28.80" height="2.84" fill="#a1d590" stroke="none" stroke-width="1" />
<rect x="338.00" y="168.96" width="28.80" height="2.84" fill="#92ce7e" stroke="none" stroke-width="1" />
<rect x="338.00" y="171.50" width="28.80" height="2.84" fill="#92ce7e" stroke="none" stroke-width="1" />
<rect x="338.00" y="174.04" width="28.80" height="2.84" fill="#e4f3df" stroke="none" stroke-width="1" />
<rect x="338.00" y="176.58" width="28.80" height="2.84" fill="#9cd38a" stroke="none" stroke-width="1" />
<rect x="338.00" y="179.12" width="28.80" height="2.84" fill="#92ce7e" stroke="none" stroke-width="1" />
<rect x="338.00" y="181.66" width="28.80" height="2.84" fill="#88ca73" stroke="none" stroke-width="1" />
<rect x="338.00" y="184.20" width="28.80" height="2.84" fill="#f17e82" stroke="none" stroke-width="1" />
<rect x="338.00" y="186.74" width="28.80" height="2.84" fill="#d7edd0" stroke="none" stroke-width="1" />
<rect x="338.00" y="189.28" width="28.80" height="2.84" fill="#d7edd0" stroke="none" stroke-width="1" />
<rect x="338.00" y="191.82" width="28.80" height="2.84" fill="#f28a8d" stroke="none" stroke-width="1" />
<rect x="338.00" y="194.36" width="28.80" height="2.84" fill="#ffffff" stroke="none" stroke-width="1" />
<rect x="338.00" y="196.90" width="28.80" height="2.84" fill="#aedba0" stroke="none" stroke-width="1" />
<rect x="338.00" y="199.44" width="28.80" height="2.84" fill="#fef3f4" stroke="none" stroke-width="1" />
<rect x="338.00" y="201.98" width="28.80" height="2.84" fill="#d7edd0" stroke="none" stroke-width="1" />
<rect x="338.00" y="204.52" width="28.80" height="2.84" fill="#83c86d" stroke="none" stroke-width="1" />
<rect x="338.00" y="207.06" width="28.80" height="2.84" fill="#fbdcdd" stroke="none" stroke-width="1" />
<rect x="366.50" y="19.10" width="28.80" height="2.84" fill="#88ca73" stroke="none" stroke-width="1" />
<rect x="366.50" y="21.64" width="28.80" height="2.84" fill="#88ca73" stroke="none" stroke-width="1" />
<rect x="366.50" y="24.18" width="28.80" height="2.84" fill="#a1d590" stroke="none" stroke-width="1" />
<rect x="366.50" y="26.72" width="28.80" height="2.84" fill="#88ca73" stroke="none" stroke-width="1" />
<rect x="366.50" y="29.26" width="28.80" height="2.84" fill="#ea373d" stroke="none" stroke-width="1" />
<rect x="366.50" y="31.80" width="28.80" height="2.84" fill="#ea373d" stroke="none" stroke-width="1" />
<rect x="366.50" y="34.34" width="28.80" height="2.84" fill="#eb4349" stroke="none" stroke-width="1" />
<rect x="366.50" y="36.88" width="28.80" height="2.84" fill="#aedba0" stroke="none" stroke-width="1" />
<rect x="366.50" y="39.42" width="28.80" height="2.84" fill="#e4f3df" stroke="none" stroke-width="1" />
<rect x="366.50" y="41.96" width="28.80" height="2.84" fill="#ea373d" stroke="none" stroke-width="1" />
<rect x="366.50" y="44.50" width="28.80" height="2.84" fill="#a1d590" stroke="none" stroke-width="1" />
<rect x="366.50" y="47.04" width="28.80" height="2.84" fill="#9cd38a" stroke="none" stroke-width="1" />
<rect x="366.50" y="49.58" width="28.80" height="2.84" fill="#9cd38a" stroke="none" stroke-width="1" />
<rect x="366.50" y="52.12" width="28.80" height="2.84" fill="#aedba0" stroke="none" stroke-width="1" />
<rect x="366.50" y="54.66" width="28.80" height="2.84" fill="#bce1b0" stroke="none" stroke-width="1" />
<rect x="366.50" y="57.20" width="28.80" height="2.84" fill="#aedba0" stroke="none" stroke-width="1" />
<rect x="366.50" y="59.74" width="28.80" height="2.84" fill="#aedba0" stroke="none" stroke-width="1" />
<rect x="366.50" y="62.28" width="28.80" height="2.84" fill="#bce1b0" stroke="none" stroke-width="1" />
<rect x="366.50" y="64.82" width="28.80" height="2.84" fill="#f28a8d" stroke="none" stroke-width="1" />
<rect x="366.50" y="67.36" width="28.80" height="2.84" fill="#eb4349" stroke="none" stroke-width="1" />
<rect x="366.50" y="69.90" width="28.80" height="2.84" fill="#fbdcdd" stroke="none" stroke-width="1" />
<rect x="366.50" y="72.44" width="28.80" height="2.84" fill="#ea373d" stroke="none" stroke-width="1" />
<rect x="366.50" y="74.98" width="28.80" height="2.84" fill="#ea373d" stroke="none" stroke-width="1" />
<rect x="366.50" y="77.52" width="28.80" height="2.84" fill="#ea373d" stroke="none" stroke-width="1" />
<rect x="366.50" y="80.06" width="28.80" height="2.84" fill="#ea373d" stroke="none" stroke-width="1" />
<rect x="366.50" y="82.60" width="28.80" height="2.84" fill="#f28a8d" stroke="none" stroke-width="1" />
<rect x="366.50" y="85.14" width="28.80" height="2.84" fill="#88ca73" stroke="none" stroke-width="1" />
<rect x="366.50" y="87.68" width="28.80" height="2.84" fill="#eb4349" stroke="none" stroke-width="1" />
<rect x="366.50" y="90.22" width="28.80" height="2.84" fill="#eb4349" stroke="none" stroke-width="1" />
<rect x="366.50" y="92.76" width="28.80" height="2.84" fill="#bce1b0" stroke="none" stroke-width="1" />
<rect x="366.50" y="95.30" width="28.80" height="2.84" fill="#f28a8d" stroke="none" stroke-width="1" />
<rect x="366.50" y="97.84" width="28.80" height="2.84" fill="#8dcc78" stroke="none" stroke-width="1" />
<rect x="366.50" y="100.38" width="28.80" height="2.84" fill="#f28a8d" stroke="none" stroke-width="1" />
<rect x="366.50" y="102.92" width="28.80" height="2.84" fill="#aedba0" stroke="none" stroke-width="1" />
<rect x="366.50" y="105.46" width="28.80" height="2.84" fill="#e82c32" stroke="none" stroke-width="1" />
<rect x="366.50" y="108.00" width="28.80" height="2.84" fill="#eb4349" stroke="none" stroke-width="1" />
<rect x="366.50" y="110.54" width="28.80" height="2.84" fill="#f9c4c6" stroke="none" stroke-width="1" />
<rect x="366.50" y="113.08" width="28.80" height="2.84" fill="#f9c4c6" stroke="none" stroke-width="1" />
<rect x="366.50" y="115.62" width="28.80" height="2.84" fill="#f8b8bb" stroke="none" stroke-width="1" />
<rect x="366.50" y="118.16" width="28.80" height="2.84" fill="#ee5a5f" stroke="none" stroke-width="1" />
<rect x="366.50" y="120.70" width="28.80" height="2.84" fill="#ef666b" stroke="none" stroke-width="1" />
<rect x="366.50" y="123.24" width="28.80" height="2.84" fill="#92ce7e" stroke="none" stroke-width="1" />
<rect x="366.50" y="125.78" width="28.80" height="2.84" fill="#e4f3df" stroke="none" stroke-width="1" />
<rect x="366.50" y="128.32" width="28.80" height="2.84" fill="#9cd38a" stroke="none" stroke-width="1" />
<rect x="366.50" y="130.86" width="28.80" height="2.84" fill="#ee5a5f" stroke="none" stroke-width="1" />
<rect x="366.50" y="133.40" width="28.80" height="2.84" fill="#ee5a5f" stroke="none" stroke-width="1" />
<rect x="366.50" y="135.94" width="28.80" height="2.84" fill="#f9c4c6" stroke="none" stroke-width="1" />
<rect x="366.50" y="138.48" width="28.80" height="2.84" fill="#aedba0" stroke="none" stroke-width="1" />
<rect x="366.50" y="141.02" width="28.80" height="2.84" fill="#ef666b" stroke="none" stroke-width="1" />
<rect x="366.50" y="143.56" width="28.80" height="2.84" fill="#92ce7e" stroke="none" stroke-width="1" />
<rect x="366.50" y="146.10" width="28.80" height="2.84" fill="#ef666b" stroke="none" stroke-width="1" />
<rect x="366.50" y="148.64" width="28.80" height="2.84" fill="#92ce7e" stroke="none" stroke-width="1" />
<rect x="366.50" y="151.18" width="28.80" height="2.84" fill="#ef666b" stroke="none" stroke-width="1" />
<rect x="366.50" y="153.72" width="28.80" height="2.84" fill="#eb4349" stroke="none" stroke-width="1" />
<rect x="366.50" y="156.26" width="28.80" height="2.84" fill="#9cd38a" stroke="none" stroke-width="1" />
<rect x="366.50" y="158.80" width="28.80" height="2.84" fill="#9cd38a" stroke="none" stroke-width="1" />
<rect x="366.50" y="161.34" width="28.80" height="2.84" fill="#9cd38a" stroke="none" stroke-width="1" />
<rect x="366.50" y="163.88" width="28.80" height="2.84" fill="#f8b8bb" stroke="none" stroke-width="1" />
<rect x="366.50" y="166.42" width="28.80" height="2.84" fill="#ef666b" stroke="none" stroke-width="1" />
<rect x="366.50" y="168.96" width="28.80" height="2.84" fill="#f6adaf" stroke="none" stroke-width="1" />
<rect x="366.50" y="171.50" width="28.80" height="2.84" fill="#f6adaf" stroke="none" stroke-width="1" />
<rect x="366.50" y="174.04" width="28.80" height="2.84" fill="#a1d590" stroke="none" stroke-width="1" />
<rect x="366.50" y="176.58" width="28.80" height="2.84" fill="#f6adaf" stroke="none" stroke-width="1" />
<rect x="366.50" y="179.12" width="28.80" height="2.84" fill="#ffffff" stroke="none" stroke-width="1" />
<rect x="366.50" y="181.66" width="28.80" height="2.84" fill="#fbdcdd" stroke="none" stroke-width="1" />
<rect x="366.50" y="184.20" width="28.80" height="2.84" fill="#aedba0" stroke="none" stroke-width="1" />
<rect x="366.50" y="186.74" width="28.80" height="2.84" fill="#bce1b0" stroke="none" stroke-width="1" />
<rect x="366.50" y="189.28" width="28.80" height="2.84" fill="#bce1b0" stroke="none" stroke-width="1" />
<rect x="366.50" y="191.82" width="28.80" height="2.84" fill="#a1d590" stroke="none" stroke-width="1" />
<rect x="366.50" y="194.36" width="28.80" height="2.84" fill="#aedba0" stroke="none" stroke-width="1" />
<rect x="366.50" y="196.90" width="28.80" height="2.84" fill="#f6adaf" stroke="none" stroke-width="1" />
<rect x="366.50" y="199.44" width="28.80" height="2.84" fill="#aedba0" stroke="none" stroke-width="1" />
<rect x="366.50" y="201.98" width="28.80" height="2.84" fill="#c9e7c0" stroke="none" stroke-width="1" />
<rect x="366.50" y="204.52" width="28.80" height="2.84" fill="#ec4f54" stroke="none" stroke-width="1" />
<rect x="366.50" y="207.06" width="28.80" height="2.84" fill="#fbdcdd" stroke="none" stroke-width="1" />
<rect x="395.00" y="19.10" width="28.80" height="2.84" fill="#a1d590" stroke="none" stroke-width="1" />
<rect x="395.00" y="21.64" width="28.80" height="2.84" fill="#9cd38a" stroke="none" stroke-width="1" />
<rect x="395.00" y="24.18" width="28.80" height="2.84" fill="#9cd38a" stroke="none" stroke-width="1" />
<rect x="395.00" y="26.72" width="28.80" height="2.84" fill="#97d084" stroke="none" stroke-width="1" />
<rect x="395.00" y="29.26" width="28.80" height="2.84" fill="#eb4349" stroke="none" stroke-width="1" />
<rect x="395.00" y="31.80" width="28.80" height="2.84" fill="#f5a1a4" stroke="none" stroke-width="1" />
<rect x="395.00" y="34.34" width="28.80" height="2.84" fill="#f8b8bb" stroke="none" stroke-width="1" />
<rect x="395.00" y="36.88" width="28.80" height="2.84" fill="#a1d590" stroke="none" stroke-width="1" />
<rect x="395.00" y="39.42" width="28.80" height="2.84" fill="#a1d590" stroke="none" stroke-width="1" />
<rect x="395.00" y="41.96" width="28.80" height="2.84" fill="#f6adaf" stroke="none" stroke-width="1" />
<rect x="395.00" y="44.50" width="28.80" height="2.84" fill="#88ca73" stroke="none" stroke-width="1" />
<rect x="395.00" y="47.04" width="28.80" height="2.84" fill="#9cd38a" stroke="none" stroke-width="1" />
<rect x="395.00" y="49.58" width="28.80" height="2.84" fill="#97d084" stroke="none" stroke-width="1" />
<rect x="395.00" y="52.12" width="28.80" height="2.84" fill="#97d084" stroke="none" stroke-width="1" />
<rect x="395.00" y="54.66" width="28.80" height="2.84" fill="#9cd38a" stroke="none" stroke-width="1" />
<rect x="395.00" y="57.20" width="28.80" height="2.84" fill="#92ce7e" stroke="none" stroke-width="1" />
<rect x="395.00" y="59.74" width="28.80" height="2.84" fill="#92ce7e" stroke="none" stroke-width="1" />
<rect x="395.00" y="62.28" width="28.80" height="2.84" fill="#a1d590" stroke="none" stroke-width="1" />
<rect x="395.00" y="64.82" width="28.80" height="2.84" fill="#f28a8d" stroke="none" stroke-width="1" />
<rect x="395.00" y="67.36" width="28.80" height="2.84" fill="#fbdcdd" stroke="none" stroke-width="1" />
<rect x="395.00" y="69.90" width="28.80" height="2.84" fill="#7ec567" stroke="none" stroke-width="1" />
<rect x="395.00" y="72.44" width="28.80" height="2.84" fill="#f5a1a4" stroke="none" stroke-width="1" />
<rect x="395.00" y="74.98" width="28.80" height="2.84" fill="#f6adaf" stroke="none" stroke-width="1" />
<rect x="395.00" y="77.52" width="28.80" height="2.84" fill="#f6adaf" stroke="none" stroke-width="1" />
<rect x="395.00" y="80.06" width="28.80" height="2.84" fill="#fce8e8" stroke="none" stroke-width="1" />
<rect x="395.00" y="82.60" width="28.80" height="2.84" fill="#f5a1a4" stroke="none" stroke-width="1" />
<rect x="395.00" y="85.14" width="28.80" height="2.84" fill="#9cd38a" stroke="none" stroke-width="1" />
<rect x="395.00" y="87.68" width="28.80" height="2.84" fill="#f5a1a4" stroke="none" stroke-width="1" />
<rect x="395.00" y="90.22" width="28.80" height="2.84" fill="#f8b8bb" stroke="none" stroke-width="1" />
<rect x="395.00" y="92.76" width="28.80" height="2.84" fill="#92ce7e" stroke="none" stroke-width="1" />
<rect x="395.00" y="95.30" width="28.80" height="2.84" fill="#f28a8d" stroke="none" stroke-width="1" />
<rect x="395.00" y="97.84" width="28.80" height="2.84" fill="#92ce7e" stroke="none" stroke-width="1" />
<rect x="395.00" y="100.38" width="28.80" height="2.84" fill="#f28a8d" stroke="none" stroke-width="1" />
<rect x="395.00" y="102.92" width="28.80" height="2.84" fill="#aedba0" stroke="none" stroke-width="1" />
<rect x="395.00" y="105.46" width="28.80" height="2.84" fill="#f6adaf" stroke="none" stroke-width="1" />
<rect x="395.00" y="108.00" width="28.80" height="2.84" fill="#fef3f4" stroke="none" stroke-width="1" />
<rect x="395.00" y="110.54" width="28.80" height="2.84" fill="#f17e82" stroke="none" stroke-width="1" />
<rect x="395.00" y="113.08" width="28.80" height="2.84" fill="#f17e82" stroke="none" stroke-width="1" />
<rect x="395.00" y="115.62" width="28.80" height="2.84" fill="#f5a1a4" stroke="none" stroke-width="1" />
<rect x="395.00" y="118.16" width="28.80" height="2.84" fill="#f17e82" stroke="none" stroke-width="1" />
<rect x="395.00" y="120.70" width="28.80" height="2.84" fill="#fad0d1" stroke="none" stroke-width="1" />
<rect x="395.00" y="123.24" width="28.80" height="2.84" fill="#aedba0" stroke="none" stroke-width="1" />
<rect x="395.00" y="125.78" width="28.80" height="2.84" fill="#8dcc78" stroke="none" stroke-width="1" />
<rect x="395.00" y="128.32" width="28.80" height="2.84" fill="#9cd38a" stroke="none" stroke-width="1" />
<rect x="395.00" y="130.86" width="28.80" height="2.84" fill="#f6adaf" stroke="none" stroke-width="1" />
<rect x="395.00" y="133.40" width="28.80" height="2.84" fill="#f9c4c6" stroke="none" stroke-width="1" />
<rect x="395.00" y="135.94" width="28.80" height="2.84" fill="#f49598" stroke="none" stroke-width="1" />
<rect x="395.00" y="138.48" width="28.80" height="2.84" fill="#8dcc78" stroke="none" stroke-width="1" />
<rect x="395.00" y="141.02" width="28.80" height="2.84" fill="#f5a1a4" stroke="none" stroke-width="1" />
<rect x="395.00" y="143.56" width="28.80" height="2.84" fill="#9cd38a" stroke="none" stroke-width="1" />
<rect x="395.00" y="146.10" width="28.80" height="2.84" fill="#f49598" stroke="none" stroke-width="1" />
<rect x="395.00" y="148.64" width="28.80" height="2.84" fill="#92ce7e" stroke="none" stroke-width="1" />
<rect x="395.00" y="151.18" width="28.80" height="2.84" fill="#f17e82" stroke="none" stroke-width="1" />
<rect x="395.00" y="153.72" width="28.80" height="2.84" fill="#f5a1a4" stroke="none" stroke-width="1" />
<rect x="395.00" y="156.26" width="28.80" height="2.84" fill="#9cd38a" stroke="none" stroke-width="1" />
<rect x="395.00" y="158.80" width="28.80" height="2.84" fill="#9cd38a" stroke="none" stroke-width="1" />
<rect x="395.00" y="161.34" width="28.80" height="2.84" fill="#9cd38a" stroke="none" stroke-width="1" />
<rect x="395.00" y="163.88" width="28.80" height="2.84" fill="#ef666b" stroke="none" stroke-width="1" />
<rect x="395.00" y="166.42" width="28.80" height="2.84" fill="#ffffff" stroke="none" stroke-width="1" />
<rect x="395.00" y="168.96" width="28.80" height="2.84" fill="#f17e82" stroke="none" stroke-width="1" />
<rect x="395.00" y="171.50" width="28.80" height="2.84" fill="#f07276" stroke="none" stroke-width="1" />
<rect x="395.00" y="174.04" width="28.80" height="2.84" fill="#9cd38a" stroke="none" stroke-width="1" />
<rect x="395.00" y="176.58" width="28.80" height="2.84" fill="#ef666b" stroke="none" stroke-width="1" />
<rect x="395.00" y="179.12" width="28.80" height="2.84" fill="#eb4349" stroke="none" stroke-width="1" />
<rect x="395.00" y="181.66" width="28.80" height="2.84" fill="#eb4349" stroke="none" stroke-width="1" />
<rect x="395.00" y="184.20" width="28.80" height="2.84" fill="#9cd38a" stroke="none" stroke-width="1" />
<rect x="395.00" y="186.74" width="28.80" height="2.84" fill="#a1d590" stroke="none" stroke-width="1" />
<rect x="395.00" y="189.28" width="28.80" height="2.84" fill="#aedba0" stroke="none" stroke-width="1" />
<rect x="395.00" y="191.82" width="28.80" height="2.84" fill="#9cd38a" stroke="none" stroke-width="1" />
<rect x="395.00" y="194.36" width="28.80" height="2.84" fill="#a1d590" stroke="none" stroke-width="1" />
<rect x="395.00" y="196.90" width="28.80" height="2.84" fill="#f28a8d" stroke="none" stroke-width="1" />
<rect x="395.00" y="199.44" width="28.80" height="2.84" fill="#a1d590" stroke="none" stroke-width="1" />
<rect x="395.00" y="201.98" width="28.80" height="2.84" fill="#c9e7c0" stroke="none" stroke-width="1" />
<rect x="395.00" y="204.52" width="28.80" height="2.84" fill="#f2f9ef" stroke="none" stroke-width="1" />
<rect x="395.00" y="207.06" width="28.80" height="2.84" fill="#88ca73" stroke="none" stroke-width="1" />
<rect x="423.50" y="19.10" width="28.80" height="2.84" fill="#aedba0" stroke="none" stroke-width="1" />
<rect x="423.50" y="21.64" width="28.80" height="2.84" fill="#aedba0" stroke="none" stroke-width="1" />
<rect x="423.50" y="24.18" width="28.80" height="2.84" fill="#aedba0" stroke="none" stroke-width="1" />
<rect x="423.50" y="26.72" width="28.80" height="2.84" fill="#aedba0" stroke="none" stroke-width="1" />
<rect x="423.50" y="29.26" width="28.80" height="2.84" fill="#fad0d1" stroke="none" stroke-width="1" />
<rect x="423.50" y="31.80" width="28.80" height="2.84" fill="#fce8e8" stroke="none" stroke-width="1" />
<rect x="423.50" y="34.34" width="28.80" height="2.84" fill="#fef3f4" stroke="none" stroke-width="1" />
<rect x="423.50" y="36.88" width="28.80" height="2.84" fill="#a1d590" stroke="none" stroke-width="1" />
<rect x="423.50" y="39.42" width="28.80" height="2.84" fill="#a1d590" stroke="none" stroke-width="1" />
<rect x="423.50" y="41.96" width="28.80" height="2.84" fill="#f8b8bb" stroke="none" stroke-width="1" />
<rect x="423.50" y="44.50" width="28.80" height="2.84" fill="#a1d590" stroke="none" stroke-width="1" />
<rect x="423.50" y="47.04" width="28.80" height="2.84" fill="#a1d590" stroke="none" stroke-width="1" />
<rect x="423.50" y="49.58" width="28.80" height="2.84" fill="#9cd38a" stroke="none" stroke-width="1" />
<rect x="423.50" y="52.12" width="28.80" height="2.84" fill="#9cd38a" stroke="none" stroke-width="1" />
<rect x="423.50" y="54.66" width="28.80" height="2.84" fill="#a1d590" stroke="none" stroke-width="1" />
<rect x="423.50" y="57.20" width="28.80" height="2.84" fill="#92ce7e" stroke="none" stroke-width="1" />
<rect x="423.50" y="59.74" width="28.80" height="2.84" fill="#92ce7e" stroke="none" stroke-width="1" />
<rect x="423.50" y="62.28" width="28.80" height="2.84" fill="#a1d590" stroke="none" stroke-width="1" />
<rect x="423.50" y="64.82" width="28.80" height="2.84" fill="#f5a1a4" stroke="none" stroke-width="1" />
<rect x="423.50" y="67.36" width="28.80" height="2.84" fill="#f8b8bb" stroke="none" stroke-width="1" />
<rect x="423.50" y="69.90" width="28.80" height="2.84" fill="#7ec567" stroke="none" stroke-width="1" />
<rect x="423.50" y="72.44" width="28.80" height="2.84" fill="#f6adaf" stroke="none" stroke-width="1" />
<rect x="423.50" y="74.98" width="28.80" height="2.84" fill="#fad0d1" stroke="none" stroke-width="1" />
<rect x="423.50" y="77.52" width="28.80" height="2.84" fill="#fad0d1" stroke="none" stroke-width="1" />
<rect x="423.50" y="80.06" width="28.80" height="2.84" fill="#f9c4c6" stroke="none" stroke-width="1" />
<rect x="423.50" y="82.60" width="28.80" height="2.84" fill="#f8b8bb" stroke="none" stroke-width="1" />
<rect x="423.50" y="85.14" width="28.80" height="2.84" fill="#9cd38a" stroke="none" stroke-width="1" />
<rect x="423.50" y="87.68" width="28.80" height="2.84" fill="#f6adaf" stroke="none" stroke-width="1" />
<rect x="423.50" y="90.22" width="28.80" height="2.84" fill="#f8b8bb" stroke="none" stroke-width="1" />
<rect x="423.50" y="92.76" width="28.80" height="2.84" fill="#92ce7e" stroke="none" stroke-width="1" />
<rect x="423.50" y="95.30" width="28.80" height="2.84" fill="#f49598" stroke="none" stroke-width="1" />
<rect x="423.50" y="97.84" width="28.80" height="2.84" fill="#92ce7e" stroke="none" stroke-width="1" />
<rect x="423.50" y="100.38" width="28.80" height="2.84" fill="#f28a8d" stroke="none" stroke-width="1" />
<rect x="423.50" y="102.92" width="28.80" height="2.84" fill="#aedba0" stroke="none" stroke-width="1" />
<rect x="423.50" y="105.46" width="28.80" height="2.84" fill="#ffffff" stroke="none" stroke-width="1" />
<rect x="423.50" y="108.00" width="28.80" height="2.84" fill="#f9c4c6" stroke="none" stroke-width="1" />
<rect x="423.50" y="110.54" width="28.80" height="2.84" fill="#f6adaf" stroke="none" stroke-width="1" />
<rect x="423.50" y="113.08" width="28.80" height="2.84" fill="#f28a8d" stroke="none" stroke-width="1" />
<rect x="423.50" y="115.62" width="28.80" height="2.84" fill="#f07276" stroke="none" stroke-width="1" />
<rect x="423.50" y="118.16" width="28.80" height="2.84" fill="#ffffff" stroke="none" stroke-width="1" />
<rect x="423.50" y="120.70" width="28.80" height="2.84" fill="#f6adaf" stroke="none" stroke-width="1" />
<rect x="423.50" y="123.24" width="28.80" height="2.84" fill="#bce1b0" stroke="none" stroke-width="1" />
<rect x="423.50" y="125.78" width="28.80" height="2.84" fill="#92ce7e" stroke="none" stroke-width="1" />
<rect x="423.50" y="128.32" width="28.80" height="2.84" fill="#9cd38a" stroke="none" stroke-width="1" />
<rect x="423.50" y="130.86" width="28.80" height="2.84" fill="#f6adaf" stroke="none" stroke-width="1" />
<rect x="423.50" y="133.40" width="28.80" height="2.84" fill="#fad0d1" stroke="none" stroke-width="1" />
<rect x="423.50" y="135.94" width="28.80" height="2.84" fill="#f28a8d" stroke="none" stroke-width="1" />
<rect x="423.50" y="138.48" width="28.80" height="2.84" fill="#bce1b0" stroke="none" stroke-width="1" />
<rect x="423.50" y="141.02" width="28.80" height="2.84" fill="#f6adaf" stroke="none" stroke-width="1" />
<rect x="423.50" y="143.56" width="28.80" height="2.84" fill="#92ce7e" stroke="none" stroke-width="1" />
<rect x="423.50" y="146.10" width="28.80" height="2.84" fill="#f6adaf" stroke="none" stroke-width="1" />
<rect x="423.50" y="148.64" width="28.80" height="2.84" fill="#9cd38a" stroke="none" stroke-width="1" />
<rect x="423.50" y="151.18" width="28.80" height="2.84" fill="#f8b8bb" stroke="none" stroke-width="1" />
<rect x="423.50" y="153.72" width="28.80" height="2.84" fill="#fad0d1" stroke="none" stroke-width="1" />
<rect x="423.50" y="156.26" width="28.80" height="2.84" fill="#92ce7e" stroke="none" stroke-width="1" />
<rect x="423.50" y="158.80" width="28.80" height="2.84" fill="#92ce7e" stroke="none" stroke-width="1" />
<rect x="423.50" y="161.34" width="28.80" height="2.84" fill="#92ce7e" stroke="none" stroke-width="1" />
<rect x="423.50" y="163.88" width="28.80" height="2.84" fill="#f6adaf" stroke="none" stroke-width="1" />
<rect x="423.50" y="166.42" width="28.80" height="2.84" fill="#f07276" stroke="none" stroke-width="1" />
<rect x="423.50" y="168.96" width="28.80" height="2.84" fill="#f6adaf" stroke="none" stroke-width="1" />
<rect x="423.50" y="171.50" width="28.80" height="2.84" fill="#f8b8bb" stroke="none" stroke-width="1" />
<rect x="423.50" y="174.04" width="28.80" height="2.84" fill="#9cd38a" stroke="none" stroke-width="1" />
<rect x="423.50" y="176.58" width="28.80" height="2.84" fill="#f6adaf" stroke="none" stroke-width="1" />
<rect x="423.50" y="179.12" width="28.80" height="2.84" fill="#fad0d1" stroke="none" stroke-width="1" />
<rect x="423.50" y="181.66" width="28.80" height="2.84" fill="#fad0d1" stroke="none" stroke-width="1" />
<rect x="423.50" y="184.20" width="28.80" height="2.84" fill="#a1d590" stroke="none" stroke-width="1" />
<rect x="423.50" y="186.74" width="28.80" height="2.84" fill="#a1d590" stroke="none" stroke-width="1" />
<rect x="423.50" y="189.28" width="28.80" height="2.84" fill="#a1d590" stroke="none" stroke-width="1" />
<rect x="423.50" y="191.82" width="28.80" height="2.84" fill="#a1d590" stroke="none" stroke-width="1" />
<rect x="423.50" y="194.36" width="28.80" height="2.84" fill="#a1d590" stroke="none" stroke-width="1" />
<rect x="423.50" y="196.90" width="28.80" height="2.84" fill="#f07276" stroke="none" stroke-width="1" />
<rect x="423.50" y="199.44" width="28.80" height="2.84" fill="#a1d590" stroke="none" stroke-width="1" />
<rect x="423.50" y="201.98" width="28.80" height="2.84" fill="#aedba0" stroke="none" stroke-width="1" />
<rect x="423.50" y="204.52" width="28.80" height="2.84" fill="#f07276" stroke="none" stroke-width="1" />
<rect x="423.50" y="207.06" width="28.80" height="2.84" fill="#8dcc78" stroke="none" stroke-width="1" />
</g>
<rect x="281.00" y="14.40" width="85.50" height="3.40" fill="#1f9a77" stroke="none" stroke-width="1" />
<rect x="366.50" y="14.40" width="85.50" height="3.40" fill="#d4601a" stroke="none" stroke-width="1" />
<rect x="276.30" y="19.10" width="3.70" height="43.18" fill="#8DD3C7" stroke="none" stroke-width="1" />
<rect x="276.30" y="62.28" width="3.70" height="40.64" fill="#FFFFB3" stroke="none" stroke-width="1" />
<rect x="276.30" y="102.92" width="3.70" height="38.10" fill="#BEBADA" stroke="none" stroke-width="1" />
<rect x="276.30" y="141.02" width="3.70" height="25.40" fill="#FB8072" stroke="none" stroke-width="1" />
<rect x="276.30" y="166.42" width="3.70" height="17.78" fill="#80B1D3" stroke="none" stroke-width="1" />
<rect x="276.30" y="184.20" width="3.70" height="10.16" fill="#FDB462" stroke="none" stroke-width="1" />
<rect x="276.30" y="194.36" width="3.70" height="7.62" fill="#B3DE69" stroke="none" stroke-width="1" />
<rect x="276.30" y="201.98" width="3.70" height="2.54" fill="#FCCDE5" stroke="none" stroke-width="1" />
<rect x="276.30" y="204.52" width="3.70" height="2.54" fill="#BC80BD" stroke="none" stroke-width="1" />
<rect x="276.30" y="207.06" width="3.70" height="2.54" fill="#CCEBC5" stroke="none" stroke-width="1" />
<text x="454.00" y="17.65" font-size="4.85" font-weight="bold" text-anchor="start" fill="#222" stroke="#222" stroke-width="0.26" >Group</text>
<defs><linearGradient id="hm" x1="0" y1="0" x2="0" y2="1"><stop offset="0" stop-color="#E6141B"/><stop offset="0.5" stop-color="#ffffff"/><stop offset="1" stop-color="#4CAF2C"/></linearGradient>
<linearGradient id="pv" x1="0" y1="1" x2="0" y2="0"><stop offset="0" stop-color="#e41a1c"/><stop offset="0.15" stop-color="#ef5a2a"/><stop offset="0.3" stop-color="#f1982e"/><stop offset="0.42" stop-color="#c2cf38"/><stop offset="0.52" stop-color="#8cc63f"/><stop offset="0.63" stop-color="#6cc39a"/><stop offset="0.74" stop-color="#5bc0de"/><stop offset="0.87" stop-color="#7b9ade"/><stop offset="1" stop-color="#8d5cb0"/></linearGradient></defs>
<rect x="453.80" y="19.30" width="3.40" height="54.50" fill="url(#hm)" stroke="none" stroke-width="1" />
<text x="458.60" y="22.66" font-size="4.6" font-weight="bold" text-anchor="start" fill="#222" stroke="#222" stroke-width="0.26" >2</text>
<text x="458.60" y="34.66" font-size="4.6" font-weight="bold" text-anchor="start" fill="#222" stroke="#222" stroke-width="0.26" >1</text>
<text x="458.60" y="48.06" font-size="4.6" font-weight="bold" text-anchor="start" fill="#222" stroke="#222" stroke-width="0.26" >0</text>
<text x="458.60" y="61.66" font-size="4.6" font-weight="bold" text-anchor="start" fill="#222" stroke="#222" stroke-width="0.26" >−1</text>
<text x="458.60" y="74.06" font-size="4.6" font-weight="bold" text-anchor="start" fill="#222" stroke="#222" stroke-width="0.26" >−2</text>
<text x="470.70" y="32.50" font-size="5.0" font-weight="bold" text-anchor="start" fill="#1a1a1a" stroke="#1a1a1a" stroke-width="0.26" >Group</text>
<rect x="470.70" y="33.40" width="5.70" height="5.50" fill="#1f9a77" stroke="none" stroke-width="1" />
<rect x="470.70" y="38.90" width="5.70" height="5.50" fill="#d4601a" stroke="none" stroke-width="1" />
<text x="477.30" y="38.00" font-size="5.0" font-weight="bold" text-anchor="start" fill="#1a1a1a" stroke="#1a1a1a" stroke-width="0.26" >MT</text>
<text x="477.30" y="43.50" font-size="5.0" font-weight="bold" text-anchor="start" fill="#1a1a1a" stroke="#1a1a1a" stroke-width="0.26" >WT</text>
<text x="456.00" y="85.80" font-size="5.0" font-weight="bold" text-anchor="start" fill="#1a1a1a" stroke="#1a1a1a" stroke-width="0.26" >Class</text>
<rect x="456.00" y="86.80" width="4.60" height="5.20" fill="#8DD3C7" stroke="none" stroke-width="1" />
<text x="462.00" y="91.18" font-size="4.95" font-weight="bold" text-anchor="start" fill="#1a1a1a" stroke="#1a1a1a" stroke-width="0.26" >Phenolic acids</text>
<rect x="456.00" y="92.04" width="4.60" height="5.20" fill="#FFFFB3" stroke="none" stroke-width="1" />
<text x="462.00" y="96.42" font-size="4.95" font-weight="bold" text-anchor="start" fill="#1a1a1a" stroke="#1a1a1a" stroke-width="0.26" >Flavonoids</text>
<rect x="456.00" y="97.28" width="4.60" height="5.20" fill="#BEBADA" stroke="none" stroke-width="1" />
<text x="462.00" y="101.66" font-size="4.95" font-weight="bold" text-anchor="start" fill="#1a1a1a" stroke="#1a1a1a" stroke-width="0.26" >Others</text>
<rect x="456.00" y="102.52" width="4.60" height="5.20" fill="#FB8072" stroke="none" stroke-width="1" />
<text x="462.00" y="106.90" font-size="4.95" font-weight="bold" text-anchor="start" fill="#1a1a1a" stroke="#1a1a1a" stroke-width="0.26" >Organic acids</text>
<rect x="456.00" y="107.76" width="4.60" height="5.20" fill="#80B1D3" stroke="none" stroke-width="1" />
<text x="462.00" y="112.14" font-size="4.95" font-weight="bold" text-anchor="start" fill="#1a1a1a" stroke="#1a1a1a" stroke-width="0.26" >Nucleotides and derivatives</text>
<rect x="456.00" y="113.00" width="4.60" height="5.20" fill="#FDB462" stroke="none" stroke-width="1" />
<text x="462.00" y="117.38" font-size="4.95" font-weight="bold" text-anchor="start" fill="#1a1a1a" stroke="#1a1a1a" stroke-width="0.26" >Lignans and Coumarins</text>
<rect x="456.00" y="118.24" width="4.60" height="5.20" fill="#B3DE69" stroke="none" stroke-width="1" />
<text x="462.00" y="122.62" font-size="4.95" font-weight="bold" text-anchor="start" fill="#1a1a1a" stroke="#1a1a1a" stroke-width="0.26" >Amino acids and derivatives</text>
<rect x="456.00" y="123.48" width="4.60" height="5.20" fill="#FCCDE5" stroke="none" stroke-width="1" />
<text x="462.00" y="127.86" font-size="4.95" font-weight="bold" text-anchor="start" fill="#1a1a1a" stroke="#1a1a1a" stroke-width="0.26" >Alkaloids</text>
<rect x="456.00" y="128.72" width="4.60" height="5.20" fill="#BC80BD" stroke="none" stroke-width="1" />
<text x="462.00" y="133.10" font-size="4.95" font-weight="bold" text-anchor="start" fill="#1a1a1a" stroke="#1a1a1a" stroke-width="0.26" >Lipids</text>
<rect x="456.00" y="133.96" width="4.60" height="5.20" fill="#CCEBC5" stroke="none" stroke-width="1" />
<text x="462.00" y="138.34" font-size="4.95" font-weight="bold" text-anchor="start" fill="#1a1a1a" stroke="#1a1a1a" stroke-width="0.26" >Terpenoids</text>
<g transform="translate(294.65,211.3) rotate(90)">
<text x="0.00" y="1.73" font-size="4.8" font-weight="bold" text-anchor="start" fill="#222" stroke="#222" stroke-width="0.26" >MT−1</text>
</g>
<g transform="translate(323.15,211.3) rotate(90)">
<text x="0.00" y="1.73" font-size="4.8" font-weight="bold" text-anchor="start" fill="#222" stroke="#222" stroke-width="0.26" >MT−2</text>
</g>
<g transform="translate(351.65,211.3) rotate(90)">
<text x="0.00" y="1.73" font-size="4.8" font-weight="bold" text-anchor="start" fill="#222" stroke="#222" stroke-width="0.26" >MT−3</text>
</g>
<g transform="translate(380.15,211.3) rotate(90)">
<text x="0.00" y="1.73" font-size="4.8" font-weight="bold" text-anchor="start" fill="#222" stroke="#222" stroke-width="0.26" >WT−1</text>
</g>
<g transform="translate(408.65,211.3) rotate(90)">
<text x="0.00" y="1.73" font-size="4.8" font-weight="bold" text-anchor="start" fill="#222" stroke="#222" stroke-width="0.26" >WT−2</text>
</g>
<g transform="translate(437.15,211.3) rotate(90)">
<text x="0.00" y="1.73" font-size="4.8" font-weight="bold" text-anchor="start" fill="#222" stroke="#222" stroke-width="0.26" >WT−3</text>
</g>
<g transform="translate(278.1,211.3) rotate(90)">
<text x="0.00" y="1.80" font-size="5.0" font-weight="bold" text-anchor="start" fill="#222" stroke="#222" stroke-width="0.26" >Class</text>
</g>
<text x="7.00" y="246.00" font-size="10" font-weight="bold" text-anchor="start" fill="#1a1a1a" stroke="#1a1a1a" stroke-width="0.26" >C</text>
<line x1="23.30" y1="374.82" x2="208.30" y2="374.82" stroke="#f0f0f0" stroke-width="0.7" />
<line x1="23.30" y1="329.48" x2="208.30" y2="329.48" stroke="#f0f0f0" stroke-width="0.7" />
<line x1="23.30" y1="284.12" x2="208.30" y2="284.12" stroke="#f0f0f0" stroke-width="0.7" />
<line x1="36.60" y1="243.50" x2="36.60" y2="404.00" stroke="#e8e8e8" stroke-width="0.7" />
<line x1="55.60" y1="243.50" x2="55.60" y2="404.00" stroke="#e8e8e8" stroke-width="0.7" />
<line x1="74.60" y1="243.50" x2="74.60" y2="404.00" stroke="#e8e8e8" stroke-width="0.7" />
<line x1="93.60" y1="243.50" x2="93.60" y2="404.00" stroke="#e8e8e8" stroke-width="0.7" />
<line x1="131.60" y1="243.50" x2="131.60" y2="404.00" stroke="#e8e8e8" stroke-width="0.7" />
<line x1="207.60" y1="243.50" x2="207.60" y2="404.00" stroke="#e8e8e8" stroke-width="0.7" />
<line x1="23.30" y1="397.50" x2="208.30" y2="397.50" stroke="#e8e8e8" stroke-width="0.7" />
<line x1="23.30" y1="352.15" x2="208.30" y2="352.15" stroke="#e8e8e8" stroke-width="0.7" />
<line x1="23.30" y1="306.80" x2="208.30" y2="306.80" stroke="#e8e8e8" stroke-width="0.7" />
<line x1="23.30" y1="261.45" x2="208.30" y2="261.45" stroke="#e8e8e8" stroke-width="0.7" />
<circle cx="58.74" cy="359.52" r="0.80" fill="none" stroke="#b4b4b4" stroke-width="0.35"/>
<circle cx="58.99" cy="391.20" r="0.80" fill="none" stroke="#b4b4b4" stroke-width="0.35"/>
<circle cx="55.94" cy="328.00" r="0.80" fill="none" stroke="#b4b4b4" stroke-width="0.35"/>
<circle cx="57.58" cy="332.40" r="0.80" fill="none" stroke="#b4b4b4" stroke-width="0.35"/>
<circle cx="56.08" cy="394.64" r="0.80" fill="none" stroke="#b4b4b4" stroke-width="0.35"/>
<circle cx="57.04" cy="389.25" r="0.80" fill="none" stroke="#b4b4b4" stroke-width="0.35"/>
<circle cx="57.41" cy="344.95" r="0.80" fill="none" stroke="#b4b4b4" stroke-width="0.35"/>
<circle cx="55.79" cy="373.20" r="0.80" fill="none" stroke="#b4b4b4" stroke-width="0.35"/>
<circle cx="61.93" cy="313.51" r="0.80" fill="none" stroke="#b4b4b4" stroke-width="0.35"/>
<circle cx="55.61" cy="349.05" r="0.80" fill="none" stroke="#b4b4b4" stroke-width="0.35"/>
<circle cx="61.58" cy="254.74" r="0.80" fill="none" stroke="#b4b4b4" stroke-width="0.35"/>
<circle cx="57.44" cy="364.29" r="0.80" fill="none" stroke="#b4b4b4" stroke-width="0.35"/>
<circle cx="57.65" cy="361.67" r="0.80" fill="none" stroke="#b4b4b4" stroke-width="0.35"/>
<circle cx="60.18" cy="282.36" r="0.80" fill="none" stroke="#b4b4b4" stroke-width="0.35"/>
<circle cx="61.87" cy="311.67" r="0.80" fill="none" stroke="#b4b4b4" stroke-width="0.35"/>
<circle cx="55.86" cy="352.59" r="0.80" fill="none" stroke="#b4b4b4" stroke-width="0.35"/>
<circle cx="56.54" cy="392.52" r="0.80" fill="none" stroke="#b4b4b4" stroke-width="0.35"/>
<circle cx="55.82" cy="375.44" r="0.80" fill="none" stroke="#b4b4b4" stroke-width="0.35"/>
<circle cx="54.51" cy="360.88" r="0.80" fill="none" stroke="#b4b4b4" stroke-width="0.35"/>
<circle cx="53.64" cy="320.19" r="0.80" fill="none" stroke="#b4b4b4" stroke-width="0.35"/>
<circle cx="58.19" cy="286.03" r="0.80" fill="none" stroke="#b4b4b4" stroke-width="0.35"/>
<circle cx="56.98" cy="301.89" r="0.80" fill="none" stroke="#b4b4b4" stroke-width="0.35"/>
<circle cx="61.17" cy="329.66" r="0.80" fill="none" stroke="#b4b4b4" stroke-width="0.35"/>
<circle cx="56.00" cy="272.30" r="0.80" fill="none" stroke="#b4b4b4" stroke-width="0.35"/>
<circle cx="49.75" cy="254.05" r="0.80" fill="none" stroke="#b4b4b4" stroke-width="0.35"/>
<circle cx="53.90" cy="386.18" r="0.80" fill="none" stroke="#b4b4b4" stroke-width="0.35"/>
<circle cx="58.38" cy="382.18" r="0.80" fill="none" stroke="#b4b4b4" stroke-width="0.35"/>
<circle cx="61.28" cy="335.23" r="0.80" fill="none" stroke="#b4b4b4" stroke-width="0.35"/>
<circle cx="58.76" cy="291.03" r="0.80" fill="none" stroke="#b4b4b4" stroke-width="0.35"/>
<circle cx="59.04" cy="322.18" r="0.80" fill="none" stroke="#b4b4b4" stroke-width="0.35"/>
<circle cx="53.79" cy="302.50" r="0.80" fill="none" stroke="#b4b4b4" stroke-width="0.35"/>
<circle cx="52.96" cy="318.80" r="0.80" fill="none" stroke="#b4b4b4" stroke-width="0.35"/>
<circle cx="53.29" cy="278.31" r="0.80" fill="none" stroke="#b4b4b4" stroke-width="0.35"/>
<circle cx="58.65" cy="260.27" r="0.80" fill="none" stroke="#b4b4b4" stroke-width="0.35"/>
<circle cx="55.91" cy="392.41" r="0.80" fill="none" stroke="#b4b4b4" stroke-width="0.35"/>
<circle cx="59.87" cy="251.78" r="0.80" fill="none" stroke="#b4b4b4" stroke-width="0.35"/>
<circle cx="54.82" cy="350.65" r="0.80" fill="none" stroke="#b4b4b4" stroke-width="0.35"/>
<circle cx="61.76" cy="306.85" r="0.80" fill="none" stroke="#b4b4b4" stroke-width="0.35"/>
<circle cx="57.05" cy="380.22" r="0.80" fill="none" stroke="#b4b4b4" stroke-width="0.35"/>
<circle cx="59.83" cy="386.30" r="0.80" fill="none" stroke="#b4b4b4" stroke-width="0.35"/>
<circle cx="57.95" cy="384.88" r="0.80" fill="none" stroke="#b4b4b4" stroke-width="0.35"/>
<circle cx="53.38" cy="369.98" r="0.80" fill="none" stroke="#b4b4b4" stroke-width="0.35"/>
<circle cx="59.20" cy="390.35" r="0.80" fill="none" stroke="#b4b4b4" stroke-width="0.35"/>
<circle cx="50.97" cy="341.26" r="0.80" fill="none" stroke="#b4b4b4" stroke-width="0.35"/>
<circle cx="52.79" cy="281.82" r="0.80" fill="none" stroke="#b4b4b4" stroke-width="0.35"/>
<circle cx="55.49" cy="274.21" r="0.80" fill="none" stroke="#b4b4b4" stroke-width="0.35"/>
<circle cx="59.29" cy="354.56" r="0.80" fill="none" stroke="#b4b4b4" stroke-width="0.35"/>
<circle cx="60.66" cy="270.74" r="0.80" fill="none" stroke="#b4b4b4" stroke-width="0.35"/>
<circle cx="56.44" cy="379.20" r="0.80" fill="none" stroke="#b4b4b4" stroke-width="0.35"/>
<circle cx="56.99" cy="372.05" r="0.80" fill="none" stroke="#b4b4b4" stroke-width="0.35"/>
<circle cx="61.16" cy="319.63" r="0.80" fill="none" stroke="#b4b4b4" stroke-width="0.35"/>
<circle cx="59.01" cy="367.95" r="0.80" fill="none" stroke="#b4b4b4" stroke-width="0.35"/>
<circle cx="56.81" cy="353.05" r="0.80" fill="none" stroke="#b4b4b4" stroke-width="0.35"/>
<circle cx="62.14" cy="323.23" r="0.80" fill="none" stroke="#b4b4b4" stroke-width="0.35"/>
<circle cx="55.26" cy="331.16" r="0.80" fill="none" stroke="#b4b4b4" stroke-width="0.35"/>
<circle cx="56.13" cy="315.09" r="0.80" fill="none" stroke="#b4b4b4" stroke-width="0.35"/>
<circle cx="54.56" cy="268.10" r="0.80" fill="none" stroke="#b4b4b4" stroke-width="0.35"/>
<circle cx="63.98" cy="288.45" r="0.80" fill="none" stroke="#b4b4b4" stroke-width="0.35"/>
<circle cx="53.39" cy="349.68" r="0.80" fill="none" stroke="#b4b4b4" stroke-width="0.35"/>
<circle cx="59.75" cy="348.72" r="0.80" fill="none" stroke="#b4b4b4" stroke-width="0.35"/>
<circle cx="58.38" cy="392.25" r="0.80" fill="none" stroke="#b4b4b4" stroke-width="0.35"/>
<circle cx="57.03" cy="391.73" r="0.80" fill="none" stroke="#b4b4b4" stroke-width="0.35"/>
<circle cx="58.13" cy="357.23" r="0.80" fill="none" stroke="#b4b4b4" stroke-width="0.35"/>
<circle cx="57.83" cy="393.21" r="0.80" fill="none" stroke="#b4b4b4" stroke-width="0.35"/>
<circle cx="56.74" cy="388.07" r="0.80" fill="none" stroke="#b4b4b4" stroke-width="0.35"/>
<circle cx="61.80" cy="353.86" r="0.80" fill="none" stroke="#b4b4b4" stroke-width="0.35"/>
<circle cx="58.06" cy="315.66" r="0.80" fill="none" stroke="#b4b4b4" stroke-width="0.35"/>
<circle cx="56.71" cy="382.59" r="0.80" fill="none" stroke="#b4b4b4" stroke-width="0.35"/>
<circle cx="59.07" cy="353.78" r="0.80" fill="none" stroke="#b4b4b4" stroke-width="0.35"/>
<circle cx="60.31" cy="385.63" r="0.80" fill="none" stroke="#b4b4b4" stroke-width="0.35"/>
<circle cx="49.00" cy="338.73" r="0.80" fill="none" stroke="#b4b4b4" stroke-width="0.35"/>
<circle cx="57.98" cy="336.02" r="0.80" fill="none" stroke="#b4b4b4" stroke-width="0.35"/>
<circle cx="57.32" cy="356.86" r="0.80" fill="none" stroke="#b4b4b4" stroke-width="0.35"/>
<circle cx="57.36" cy="367.68" r="0.80" fill="none" stroke="#b4b4b4" stroke-width="0.35"/>
<circle cx="55.75" cy="395.90" r="0.80" fill="none" stroke="#b4b4b4" stroke-width="0.35"/>
<circle cx="52.26" cy="259.17" r="0.80" fill="none" stroke="#b4b4b4" stroke-width="0.35"/>
<circle cx="56.39" cy="326.86" r="0.80" fill="none" stroke="#b4b4b4" stroke-width="0.35"/>
<circle cx="51.55" cy="395.57" r="0.80" fill="none" stroke="#b4b4b4" stroke-width="0.35"/>
<circle cx="53.43" cy="274.32" r="0.80" fill="none" stroke="#b4b4b4" stroke-width="0.35"/>
<circle cx="56.42" cy="302.35" r="0.80" fill="none" stroke="#b4b4b4" stroke-width="0.35"/>
<circle cx="58.64" cy="380.34" r="0.80" fill="none" stroke="#b4b4b4" stroke-width="0.35"/>
<circle cx="47.13" cy="289.80" r="0.80" fill="none" stroke="#b4b4b4" stroke-width="0.35"/>
<circle cx="55.90" cy="358.70" r="0.80" fill="none" stroke="#b4b4b4" stroke-width="0.35"/>
<circle cx="59.02" cy="373.22" r="0.80" fill="none" stroke="#b4b4b4" stroke-width="0.35"/>
<circle cx="60.99" cy="276.15" r="0.80" fill="none" stroke="#b4b4b4" stroke-width="0.35"/>
<circle cx="47.57" cy="295.14" r="0.80" fill="none" stroke="#b4b4b4" stroke-width="0.35"/>
<circle cx="54.79" cy="372.74" r="0.80" fill="none" stroke="#b4b4b4" stroke-width="0.35"/>
<circle cx="56.54" cy="395.40" r="0.80" fill="none" stroke="#b4b4b4" stroke-width="0.35"/>
<circle cx="56.47" cy="395.49" r="0.80" fill="none" stroke="#b4b4b4" stroke-width="0.35"/>
<circle cx="60.39" cy="302.95" r="0.80" fill="none" stroke="#b4b4b4" stroke-width="0.35"/>
<circle cx="63.00" cy="258.20" r="0.80" fill="none" stroke="#b4b4b4" stroke-width="0.35"/>
<circle cx="64.68" cy="252.67" r="0.80" fill="none" stroke="#b4b4b4" stroke-width="0.35"/>
<circle cx="56.19" cy="373.56" r="0.80" fill="none" stroke="#b4b4b4" stroke-width="0.35"/>
<circle cx="57.21" cy="372.73" r="0.80" fill="none" stroke="#b4b4b4" stroke-width="0.35"/>
<circle cx="59.39" cy="314.06" r="0.80" fill="none" stroke="#b4b4b4" stroke-width="0.35"/>
<circle cx="61.24" cy="267.96" r="0.80" fill="none" stroke="#b4b4b4" stroke-width="0.35"/>
<circle cx="52.49" cy="309.39" r="0.80" fill="none" stroke="#b4b4b4" stroke-width="0.35"/>
<circle cx="64.32" cy="285.14" r="0.80" fill="none" stroke="#b4b4b4" stroke-width="0.35"/>
<circle cx="62.31" cy="266.33" r="0.80" fill="none" stroke="#b4b4b4" stroke-width="0.35"/>
<circle cx="56.75" cy="288.06" r="0.80" fill="none" stroke="#b4b4b4" stroke-width="0.35"/>
<circle cx="54.45" cy="378.92" r="0.80" fill="none" stroke="#b4b4b4" stroke-width="0.35"/>
<circle cx="51.53" cy="286.91" r="0.80" fill="none" stroke="#b4b4b4" stroke-width="0.35"/>
<circle cx="49.98" cy="255.55" r="0.80" fill="none" stroke="#b4b4b4" stroke-width="0.35"/>
<circle cx="61.69" cy="259.90" r="0.80" fill="none" stroke="#b4b4b4" stroke-width="0.35"/>
<circle cx="58.03" cy="297.64" r="0.80" fill="none" stroke="#b4b4b4" stroke-width="0.35"/>
<circle cx="57.64" cy="382.28" r="0.80" fill="none" stroke="#b4b4b4" stroke-width="0.35"/>
<circle cx="58.18" cy="267.18" r="0.80" fill="none" stroke="#b4b4b4" stroke-width="0.35"/>
<circle cx="53.41" cy="280.60" r="0.80" fill="none" stroke="#b4b4b4" stroke-width="0.35"/>
<circle cx="52.37" cy="254.03" r="0.80" fill="none" stroke="#b4b4b4" stroke-width="0.35"/>
<circle cx="53.98" cy="326.00" r="0.80" fill="none" stroke="#b4b4b4" stroke-width="0.35"/>
<circle cx="61.91" cy="384.68" r="0.80" fill="none" stroke="#b4b4b4" stroke-width="0.35"/>
<circle cx="57.78" cy="309.93" r="0.80" fill="none" stroke="#b4b4b4" stroke-width="0.35"/>
<circle cx="60.05" cy="329.44" r="0.80" fill="none" stroke="#b4b4b4" stroke-width="0.35"/>
<circle cx="53.75" cy="272.88" r="0.80" fill="none" stroke="#b4b4b4" stroke-width="0.35"/>
<circle cx="57.91" cy="280.66" r="0.80" fill="none" stroke="#b4b4b4" stroke-width="0.35"/>
<circle cx="58.42" cy="363.83" r="0.80" fill="none" stroke="#b4b4b4" stroke-width="0.35"/>
<circle cx="55.33" cy="370.92" r="0.80" fill="none" stroke="#b4b4b4" stroke-width="0.35"/>
<circle cx="55.63" cy="345.76" r="0.80" fill="none" stroke="#b4b4b4" stroke-width="0.35"/>
<circle cx="58.28" cy="384.67" r="0.80" fill="none" stroke="#b4b4b4" stroke-width="0.35"/>
<circle cx="55.25" cy="339.91" r="0.80" fill="none" stroke="#b4b4b4" stroke-width="0.35"/>
<circle cx="60.03" cy="320.55" r="0.80" fill="none" stroke="#b4b4b4" stroke-width="0.35"/>
<circle cx="52.26" cy="264.95" r="0.80" fill="none" stroke="#b4b4b4" stroke-width="0.35"/>
<circle cx="52.88" cy="333.29" r="0.80" fill="none" stroke="#b4b4b4" stroke-width="0.35"/>
<circle cx="56.28" cy="396.26" r="0.80" fill="none" stroke="#b4b4b4" stroke-width="0.35"/>
<circle cx="56.84" cy="342.62" r="0.80" fill="none" stroke="#b4b4b4" stroke-width="0.35"/>
<circle cx="57.22" cy="285.22" r="0.80" fill="none" stroke="#b4b4b4" stroke-width="0.35"/>
<circle cx="53.57" cy="379.68" r="0.80" fill="none" stroke="#b4b4b4" stroke-width="0.35"/>
<circle cx="57.70" cy="324.78" r="0.80" fill="none" stroke="#b4b4b4" stroke-width="0.35"/>
<circle cx="53.74" cy="359.22" r="0.80" fill="none" stroke="#b4b4b4" stroke-width="0.35"/>
<circle cx="55.89" cy="287.73" r="0.80" fill="none" stroke="#b4b4b4" stroke-width="0.35"/>
<circle cx="55.38" cy="387.55" r="0.80" fill="none" stroke="#b4b4b4" stroke-width="0.35"/>
<circle cx="56.12" cy="366.03" r="0.80" fill="none" stroke="#b4b4b4" stroke-width="0.35"/>
<circle cx="49.49" cy="289.74" r="0.80" fill="none" stroke="#b4b4b4" stroke-width="0.35"/>
<circle cx="56.40" cy="291.80" r="0.80" fill="none" stroke="#b4b4b4" stroke-width="0.35"/>
<circle cx="47.06" cy="265.86" r="0.80" fill="none" stroke="#b4b4b4" stroke-width="0.35"/>
<circle cx="58.31" cy="332.69" r="0.80" fill="none" stroke="#b4b4b4" stroke-width="0.35"/>
<circle cx="55.46" cy="331.67" r="0.80" fill="none" stroke="#b4b4b4" stroke-width="0.35"/>
<circle cx="53.20" cy="328.40" r="0.80" fill="none" stroke="#b4b4b4" stroke-width="0.35"/>
<circle cx="61.21" cy="336.90" r="0.80" fill="none" stroke="#b4b4b4" stroke-width="0.35"/>
<circle cx="52.85" cy="272.06" r="0.80" fill="none" stroke="#b4b4b4" stroke-width="0.35"/>
<circle cx="56.13" cy="260.70" r="0.80" fill="none" stroke="#b4b4b4" stroke-width="0.35"/>
<circle cx="59.06" cy="260.51" r="0.80" fill="none" stroke="#b4b4b4" stroke-width="0.35"/>
<circle cx="55.85" cy="385.77" r="0.80" fill="none" stroke="#b4b4b4" stroke-width="0.35"/>
<circle cx="58.66" cy="342.32" r="0.80" fill="none" stroke="#b4b4b4" stroke-width="0.35"/>
<circle cx="57.36" cy="391.13" r="0.80" fill="none" stroke="#b4b4b4" stroke-width="0.35"/>
<circle cx="58.80" cy="306.72" r="0.80" fill="none" stroke="#b4b4b4" stroke-width="0.35"/>
<circle cx="52.62" cy="381.88" r="0.80" fill="none" stroke="#b4b4b4" stroke-width="0.35"/>
<circle cx="55.25" cy="299.08" r="0.80" fill="none" stroke="#b4b4b4" stroke-width="0.35"/>
<circle cx="53.42" cy="270.97" r="0.80" fill="none" stroke="#b4b4b4" stroke-width="0.35"/>
<circle cx="60.65" cy="256.27" r="0.80" fill="none" stroke="#b4b4b4" stroke-width="0.35"/>
<circle cx="63.20" cy="348.82" r="0.80" fill="none" stroke="#b4b4b4" stroke-width="0.35"/>
<circle cx="62.67" cy="335.49" r="0.80" fill="none" stroke="#b4b4b4" stroke-width="0.35"/>
<circle cx="56.50" cy="381.03" r="0.80" fill="none" stroke="#b4b4b4" stroke-width="0.35"/>
<circle cx="54.18" cy="343.90" r="0.80" fill="none" stroke="#b4b4b4" stroke-width="0.35"/>
<circle cx="56.56" cy="376.74" r="0.80" fill="none" stroke="#b4b4b4" stroke-width="0.35"/>
<circle cx="56.66" cy="360.27" r="0.80" fill="none" stroke="#b4b4b4" stroke-width="0.35"/>
<circle cx="56.04" cy="325.16" r="0.80" fill="none" stroke="#b4b4b4" stroke-width="0.35"/>
<circle cx="59.30" cy="342.57" r="0.80" fill="none" stroke="#b4b4b4" stroke-width="0.35"/>
<circle cx="57.16" cy="314.08" r="0.80" fill="none" stroke="#b4b4b4" stroke-width="0.35"/>
<circle cx="60.50" cy="331.66" r="0.80" fill="none" stroke="#b4b4b4" stroke-width="0.35"/>
<circle cx="59.45" cy="287.04" r="0.80" fill="none" stroke="#b4b4b4" stroke-width="0.35"/>
<circle cx="56.56" cy="367.57" r="0.80" fill="none" stroke="#b4b4b4" stroke-width="0.35"/>
<circle cx="57.01" cy="394.45" r="0.80" fill="none" stroke="#b4b4b4" stroke-width="0.35"/>
<circle cx="55.22" cy="384.85" r="0.80" fill="none" stroke="#b4b4b4" stroke-width="0.35"/>
<circle cx="61.11" cy="345.28" r="0.80" fill="none" stroke="#b4b4b4" stroke-width="0.35"/>
<circle cx="54.62" cy="368.51" r="0.80" fill="none" stroke="#b4b4b4" stroke-width="0.35"/>
<circle cx="58.98" cy="382.50" r="0.80" fill="none" stroke="#b4b4b4" stroke-width="0.35"/>
<circle cx="53.66" cy="301.66" r="0.80" fill="none" stroke="#b4b4b4" stroke-width="0.35"/>
<circle cx="59.48" cy="389.39" r="0.80" fill="none" stroke="#b4b4b4" stroke-width="0.35"/>
<circle cx="58.25" cy="344.83" r="0.80" fill="none" stroke="#b4b4b4" stroke-width="0.35"/>
<circle cx="59.25" cy="391.21" r="0.80" fill="none" stroke="#b4b4b4" stroke-width="0.35"/>
<circle cx="53.52" cy="284.81" r="0.80" fill="none" stroke="#b4b4b4" stroke-width="0.35"/>
<circle cx="57.18" cy="390.01" r="0.80" fill="none" stroke="#b4b4b4" stroke-width="0.35"/>
<circle cx="54.76" cy="274.42" r="0.80" fill="none" stroke="#b4b4b4" stroke-width="0.35"/>
<circle cx="54.75" cy="340.57" r="0.80" fill="none" stroke="#b4b4b4" stroke-width="0.35"/>
<circle cx="56.29" cy="263.40" r="0.80" fill="none" stroke="#b4b4b4" stroke-width="0.35"/>
<circle cx="58.52" cy="329.39" r="0.80" fill="none" stroke="#b4b4b4" stroke-width="0.35"/>
<circle cx="57.71" cy="371.20" r="0.80" fill="none" stroke="#b4b4b4" stroke-width="0.35"/>
<circle cx="57.46" cy="393.43" r="0.80" fill="none" stroke="#b4b4b4" stroke-width="0.35"/>
<circle cx="56.08" cy="375.97" r="0.80" fill="none" stroke="#b4b4b4" stroke-width="0.35"/>
<circle cx="61.09" cy="291.88" r="0.80" fill="none" stroke="#b4b4b4" stroke-width="0.35"/>
<circle cx="55.33" cy="364.24" r="0.80" fill="none" stroke="#b4b4b4" stroke-width="0.35"/>
<circle cx="56.74" cy="356.24" r="0.80" fill="none" stroke="#b4b4b4" stroke-width="0.35"/>
<circle cx="56.74" cy="396.30" r="0.80" fill="none" stroke="#b4b4b4" stroke-width="0.35"/>
<circle cx="57.66" cy="296.27" r="0.80" fill="none" stroke="#b4b4b4" stroke-width="0.35"/>
<circle cx="58.24" cy="325.63" r="0.80" fill="none" stroke="#b4b4b4" stroke-width="0.35"/>
<circle cx="48.40" cy="262.01" r="0.80" fill="none" stroke="#b4b4b4" stroke-width="0.35"/>
<circle cx="59.84" cy="279.22" r="0.80" fill="none" stroke="#b4b4b4" stroke-width="0.35"/>
<circle cx="52.71" cy="349.58" r="0.80" fill="none" stroke="#b4b4b4" stroke-width="0.35"/>
<circle cx="56.19" cy="253.66" r="0.80" fill="none" stroke="#b4b4b4" stroke-width="0.35"/>
<circle cx="58.62" cy="356.85" r="0.80" fill="none" stroke="#b4b4b4" stroke-width="0.35"/>
<circle cx="50.95" cy="312.14" r="0.80" fill="none" stroke="#b4b4b4" stroke-width="0.35"/>
<circle cx="56.22" cy="347.88" r="0.80" fill="none" stroke="#b4b4b4" stroke-width="0.35"/>
<circle cx="57.27" cy="384.82" r="0.80" fill="none" stroke="#b4b4b4" stroke-width="0.35"/>
<circle cx="56.66" cy="391.38" r="0.80" fill="none" stroke="#b4b4b4" stroke-width="0.35"/>
<circle cx="55.21" cy="380.81" r="0.80" fill="none" stroke="#b4b4b4" stroke-width="0.35"/>
<circle cx="58.84" cy="389.93" r="0.80" fill="none" stroke="#b4b4b4" stroke-width="0.35"/>
<circle cx="48.97" cy="306.54" r="0.80" fill="none" stroke="#b4b4b4" stroke-width="0.35"/>
<circle cx="56.83" cy="365.34" r="0.80" fill="none" stroke="#b4b4b4" stroke-width="0.35"/>
<circle cx="59.22" cy="339.72" r="0.80" fill="none" stroke="#b4b4b4" stroke-width="0.35"/>
<circle cx="55.28" cy="381.51" r="0.80" fill="none" stroke="#b4b4b4" stroke-width="0.35"/>
<circle cx="58.89" cy="257.28" r="0.80" fill="none" stroke="#b4b4b4" stroke-width="0.35"/>
<circle cx="50.70" cy="255.38" r="0.80" fill="none" stroke="#b4b4b4" stroke-width="0.35"/>
<circle cx="54.92" cy="256.60" r="0.80" fill="none" stroke="#b4b4b4" stroke-width="0.35"/>
<circle cx="56.67" cy="361.53" r="0.80" fill="none" stroke="#b4b4b4" stroke-width="0.35"/>
<circle cx="56.83" cy="351.25" r="0.80" fill="none" stroke="#b4b4b4" stroke-width="0.35"/>
<circle cx="54.69" cy="337.42" r="0.80" fill="none" stroke="#b4b4b4" stroke-width="0.35"/>
<circle cx="56.70" cy="332.82" r="0.80" fill="none" stroke="#b4b4b4" stroke-width="0.35"/>
<circle cx="56.67" cy="397.25" r="0.80" fill="none" stroke="#b4b4b4" stroke-width="0.35"/>
<circle cx="57.89" cy="348.64" r="0.80" fill="none" stroke="#b4b4b4" stroke-width="0.35"/>
<circle cx="58.35" cy="394.26" r="0.80" fill="none" stroke="#b4b4b4" stroke-width="0.35"/>
<circle cx="56.99" cy="371.94" r="0.80" fill="none" stroke="#b4b4b4" stroke-width="0.35"/>
<circle cx="50.46" cy="320.19" r="0.80" fill="none" stroke="#b4b4b4" stroke-width="0.35"/>
<circle cx="55.39" cy="308.66" r="0.80" fill="none" stroke="#b4b4b4" stroke-width="0.35"/>
<circle cx="60.36" cy="299.10" r="0.80" fill="none" stroke="#b4b4b4" stroke-width="0.35"/>
<circle cx="55.12" cy="359.20" r="0.80" fill="none" stroke="#b4b4b4" stroke-width="0.35"/>
<circle cx="55.13" cy="253.25" r="0.80" fill="none" stroke="#b4b4b4" stroke-width="0.35"/>
<circle cx="55.23" cy="279.11" r="0.80" fill="none" stroke="#b4b4b4" stroke-width="0.35"/>
<circle cx="48.57" cy="269.41" r="0.80" fill="none" stroke="#b4b4b4" stroke-width="0.35"/>
<circle cx="49.58" cy="283.02" r="0.80" fill="none" stroke="#b4b4b4" stroke-width="0.35"/>
<circle cx="54.44" cy="383.70" r="0.80" fill="none" stroke="#b4b4b4" stroke-width="0.35"/>
<circle cx="55.61" cy="279.17" r="0.80" fill="none" stroke="#b4b4b4" stroke-width="0.35"/>
<circle cx="60.44" cy="284.29" r="0.80" fill="none" stroke="#b4b4b4" stroke-width="0.35"/>
<circle cx="48.26" cy="269.25" r="0.80" fill="none" stroke="#b4b4b4" stroke-width="0.35"/>
<circle cx="55.56" cy="304.53" r="0.80" fill="none" stroke="#b4b4b4" stroke-width="0.35"/>
<circle cx="55.45" cy="395.21" r="0.80" fill="none" stroke="#b4b4b4" stroke-width="0.35"/>
<circle cx="56.15" cy="384.44" r="0.80" fill="none" stroke="#b4b4b4" stroke-width="0.35"/>
<circle cx="59.07" cy="279.02" r="0.80" fill="none" stroke="#b4b4b4" stroke-width="0.35"/>
<circle cx="53.21" cy="324.46" r="0.80" fill="none" stroke="#b4b4b4" stroke-width="0.35"/>
<circle cx="52.02" cy="304.89" r="0.80" fill="none" stroke="#b4b4b4" stroke-width="0.35"/>
<circle cx="62.38" cy="335.18" r="0.80" fill="none" stroke="#b4b4b4" stroke-width="0.35"/>
<circle cx="56.94" cy="293.75" r="0.80" fill="none" stroke="#b4b4b4" stroke-width="0.35"/>
<circle cx="52.10" cy="333.09" r="0.80" fill="none" stroke="#b4b4b4" stroke-width="0.35"/>
<circle cx="56.13" cy="391.86" r="0.80" fill="none" stroke="#b4b4b4" stroke-width="0.35"/>
<circle cx="56.71" cy="295.66" r="0.80" fill="none" stroke="#b4b4b4" stroke-width="0.35"/>
<circle cx="57.60" cy="367.57" r="0.80" fill="none" stroke="#b4b4b4" stroke-width="0.35"/>
<circle cx="59.10" cy="296.89" r="0.80" fill="none" stroke="#b4b4b4" stroke-width="0.35"/>
<circle cx="48.42" cy="254.83" r="0.80" fill="none" stroke="#b4b4b4" stroke-width="0.35"/>
<circle cx="56.86" cy="336.75" r="0.80" fill="none" stroke="#b4b4b4" stroke-width="0.35"/>
<circle cx="57.43" cy="304.40" r="0.80" fill="none" stroke="#b4b4b4" stroke-width="0.35"/>
<circle cx="50.79" cy="311.05" r="0.80" fill="none" stroke="#b4b4b4" stroke-width="0.35"/>
<circle cx="57.62" cy="390.68" r="0.80" fill="none" stroke="#b4b4b4" stroke-width="0.35"/>
<circle cx="60.00" cy="294.59" r="0.80" fill="none" stroke="#b4b4b4" stroke-width="0.35"/>
<circle cx="56.41" cy="362.24" r="0.80" fill="none" stroke="#b4b4b4" stroke-width="0.35"/>
<circle cx="56.62" cy="392.41" r="0.80" fill="none" stroke="#b4b4b4" stroke-width="0.35"/>
<circle cx="55.15" cy="367.13" r="0.80" fill="none" stroke="#b4b4b4" stroke-width="0.35"/>
<circle cx="50.48" cy="305.70" r="0.80" fill="none" stroke="#b4b4b4" stroke-width="0.35"/>
<circle cx="54.23" cy="364.12" r="0.80" fill="none" stroke="#b4b4b4" stroke-width="0.35"/>
<circle cx="56.39" cy="338.67" r="0.80" fill="none" stroke="#b4b4b4" stroke-width="0.35"/>
<circle cx="57.76" cy="386.13" r="0.80" fill="none" stroke="#b4b4b4" stroke-width="0.35"/>
<circle cx="53.22" cy="254.41" r="0.80" fill="none" stroke="#b4b4b4" stroke-width="0.35"/>
<circle cx="57.70" cy="261.73" r="0.80" fill="none" stroke="#b4b4b4" stroke-width="0.35"/>
<circle cx="63.42" cy="281.72" r="0.80" fill="none" stroke="#b4b4b4" stroke-width="0.35"/>
<circle cx="56.26" cy="367.15" r="0.80" fill="none" stroke="#b4b4b4" stroke-width="0.35"/>
<circle cx="58.08" cy="374.94" r="0.80" fill="none" stroke="#b4b4b4" stroke-width="0.35"/>
<circle cx="55.86" cy="320.84" r="0.80" fill="none" stroke="#b4b4b4" stroke-width="0.35"/>
<circle cx="51.94" cy="383.41" r="0.80" fill="none" stroke="#b4b4b4" stroke-width="0.35"/>
<circle cx="56.01" cy="384.49" r="0.80" fill="none" stroke="#b4b4b4" stroke-width="0.35"/>
<circle cx="56.02" cy="281.67" r="0.80" fill="none" stroke="#b4b4b4" stroke-width="0.35"/>
<circle cx="57.96" cy="301.18" r="0.80" fill="none" stroke="#b4b4b4" stroke-width="0.35"/>
<circle cx="63.39" cy="335.66" r="0.80" fill="none" stroke="#b4b4b4" stroke-width="0.35"/>
<circle cx="58.95" cy="395.76" r="0.80" fill="none" stroke="#b4b4b4" stroke-width="0.35"/>
<circle cx="56.82" cy="341.02" r="0.80" fill="none" stroke="#b4b4b4" stroke-width="0.35"/>
<circle cx="58.08" cy="362.58" r="0.80" fill="none" stroke="#b4b4b4" stroke-width="0.35"/>
<circle cx="58.40" cy="360.61" r="0.80" fill="none" stroke="#b4b4b4" stroke-width="0.35"/>
<circle cx="56.86" cy="278.27" r="0.80" fill="none" stroke="#b4b4b4" stroke-width="0.35"/>
<circle cx="53.53" cy="278.46" r="0.80" fill="none" stroke="#b4b4b4" stroke-width="0.35"/>
<circle cx="52.01" cy="364.26" r="0.80" fill="none" stroke="#b4b4b4" stroke-width="0.35"/>
<circle cx="49.43" cy="352.62" r="0.80" fill="none" stroke="#b4b4b4" stroke-width="0.35"/>
<circle cx="54.12" cy="319.62" r="0.80" fill="none" stroke="#b4b4b4" stroke-width="0.35"/>
<circle cx="58.54" cy="366.27" r="0.80" fill="none" stroke="#b4b4b4" stroke-width="0.35"/>
<circle cx="59.64" cy="393.63" r="0.80" fill="none" stroke="#b4b4b4" stroke-width="0.35"/>
<circle cx="59.28" cy="364.84" r="0.80" fill="none" stroke="#b4b4b4" stroke-width="0.35"/>
<circle cx="56.77" cy="261.85" r="0.80" fill="none" stroke="#b4b4b4" stroke-width="0.35"/>
<circle cx="59.33" cy="331.86" r="0.80" fill="none" stroke="#b4b4b4" stroke-width="0.35"/>
<circle cx="53.19" cy="377.49" r="0.80" fill="none" stroke="#b4b4b4" stroke-width="0.35"/>
<circle cx="60.54" cy="270.73" r="0.80" fill="none" stroke="#b4b4b4" stroke-width="0.35"/>
<circle cx="46.92" cy="265.70" r="0.80" fill="none" stroke="#b4b4b4" stroke-width="0.35"/>
<circle cx="52.89" cy="260.96" r="0.80" fill="none" stroke="#b4b4b4" stroke-width="0.35"/>
<circle cx="56.51" cy="393.52" r="0.80" fill="none" stroke="#b4b4b4" stroke-width="0.35"/>
<circle cx="50.83" cy="293.02" r="0.80" fill="none" stroke="#b4b4b4" stroke-width="0.35"/>
<circle cx="56.43" cy="310.77" r="0.80" fill="none" stroke="#b4b4b4" stroke-width="0.35"/>
<circle cx="59.12" cy="263.38" r="0.80" fill="none" stroke="#b4b4b4" stroke-width="0.35"/>
<circle cx="54.98" cy="385.11" r="0.80" fill="none" stroke="#b4b4b4" stroke-width="0.35"/>
<circle cx="57.10" cy="363.16" r="0.80" fill="none" stroke="#b4b4b4" stroke-width="0.35"/>
<circle cx="60.79" cy="295.28" r="0.80" fill="none" stroke="#b4b4b4" stroke-width="0.35"/>
<circle cx="56.23" cy="308.91" r="0.80" fill="none" stroke="#b4b4b4" stroke-width="0.35"/>
<circle cx="54.59" cy="362.74" r="0.80" fill="none" stroke="#b4b4b4" stroke-width="0.35"/>
<circle cx="56.04" cy="380.30" r="0.80" fill="none" stroke="#b4b4b4" stroke-width="0.35"/>
<circle cx="57.87" cy="381.00" r="0.80" fill="none" stroke="#b4b4b4" stroke-width="0.35"/>
<circle cx="63.46" cy="333.99" r="0.80" fill="none" stroke="#b4b4b4" stroke-width="0.35"/>
<circle cx="62.57" cy="373.62" r="0.80" fill="none" stroke="#b4b4b4" stroke-width="0.35"/>
<circle cx="51.28" cy="341.15" r="0.80" fill="none" stroke="#b4b4b4" stroke-width="0.35"/>
<circle cx="57.04" cy="383.67" r="0.80" fill="none" stroke="#b4b4b4" stroke-width="0.35"/>
<circle cx="57.73" cy="356.96" r="0.80" fill="none" stroke="#b4b4b4" stroke-width="0.35"/>
<circle cx="56.84" cy="389.21" r="0.80" fill="none" stroke="#b4b4b4" stroke-width="0.35"/>
<circle cx="59.60" cy="322.71" r="0.80" fill="none" stroke="#b4b4b4" stroke-width="0.35"/>
<circle cx="56.72" cy="270.21" r="0.80" fill="none" stroke="#b4b4b4" stroke-width="0.35"/>
<circle cx="53.91" cy="346.52" r="0.80" fill="none" stroke="#b4b4b4" stroke-width="0.35"/>
<circle cx="54.54" cy="329.82" r="0.80" fill="none" stroke="#b4b4b4" stroke-width="0.35"/>
<circle cx="57.95" cy="392.27" r="0.80" fill="none" stroke="#b4b4b4" stroke-width="0.35"/>
<circle cx="57.87" cy="365.94" r="0.80" fill="none" stroke="#b4b4b4" stroke-width="0.35"/>
<circle cx="56.40" cy="333.02" r="0.80" fill="none" stroke="#b4b4b4" stroke-width="0.35"/>
<circle cx="58.65" cy="313.16" r="0.80" fill="none" stroke="#b4b4b4" stroke-width="0.35"/>
<circle cx="55.57" cy="366.83" r="0.80" fill="none" stroke="#b4b4b4" stroke-width="0.35"/>
<circle cx="54.85" cy="369.87" r="0.80" fill="none" stroke="#b4b4b4" stroke-width="0.35"/>
<circle cx="61.95" cy="258.65" r="0.80" fill="none" stroke="#b4b4b4" stroke-width="0.35"/>
<circle cx="57.71" cy="276.82" r="0.80" fill="none" stroke="#b4b4b4" stroke-width="0.35"/>
<circle cx="56.45" cy="395.12" r="0.80" fill="none" stroke="#b4b4b4" stroke-width="0.35"/>
<circle cx="61.20" cy="300.16" r="0.80" fill="none" stroke="#b4b4b4" stroke-width="0.35"/>
<circle cx="54.09" cy="319.94" r="0.80" fill="none" stroke="#b4b4b4" stroke-width="0.35"/>
<circle cx="53.37" cy="397.50" r="0.80" fill="none" stroke="#b4b4b4" stroke-width="0.35"/>
<circle cx="56.77" cy="280.75" r="0.80" fill="none" stroke="#b4b4b4" stroke-width="0.35"/>
<circle cx="57.69" cy="381.89" r="0.80" fill="none" stroke="#b4b4b4" stroke-width="0.35"/>
<circle cx="53.42" cy="330.10" r="0.80" fill="none" stroke="#b4b4b4" stroke-width="0.35"/>
<circle cx="51.53" cy="298.15" r="0.80" fill="none" stroke="#b4b4b4" stroke-width="0.35"/>
<circle cx="52.71" cy="340.04" r="0.80" fill="none" stroke="#b4b4b4" stroke-width="0.35"/>
<circle cx="62.79" cy="325.56" r="0.80" fill="none" stroke="#b4b4b4" stroke-width="0.35"/>
<circle cx="57.65" cy="371.97" r="0.80" fill="none" stroke="#b4b4b4" stroke-width="0.35"/>
<circle cx="52.79" cy="264.57" r="0.80" fill="none" stroke="#b4b4b4" stroke-width="0.35"/>
<circle cx="55.43" cy="385.04" r="0.80" fill="none" stroke="#b4b4b4" stroke-width="0.35"/>
<circle cx="54.55" cy="369.42" r="0.80" fill="none" stroke="#b4b4b4" stroke-width="0.35"/>
<circle cx="54.47" cy="386.86" r="0.80" fill="none" stroke="#b4b4b4" stroke-width="0.35"/>
<circle cx="54.24" cy="391.42" r="0.80" fill="none" stroke="#b4b4b4" stroke-width="0.35"/>
<circle cx="56.21" cy="350.31" r="0.80" fill="none" stroke="#b4b4b4" stroke-width="0.35"/>
<circle cx="56.50" cy="373.15" r="0.80" fill="none" stroke="#b4b4b4" stroke-width="0.35"/>
<circle cx="56.54" cy="362.64" r="0.80" fill="none" stroke="#b4b4b4" stroke-width="0.35"/>
<circle cx="60.89" cy="339.53" r="0.80" fill="none" stroke="#b4b4b4" stroke-width="0.35"/>
<circle cx="54.14" cy="270.81" r="0.80" fill="none" stroke="#b4b4b4" stroke-width="0.35"/>
<circle cx="56.96" cy="337.31" r="0.80" fill="none" stroke="#b4b4b4" stroke-width="0.35"/>
<circle cx="62.92" cy="257.48" r="0.80" fill="none" stroke="#b4b4b4" stroke-width="0.35"/>
<circle cx="56.38" cy="300.96" r="0.80" fill="none" stroke="#b4b4b4" stroke-width="0.35"/>
<circle cx="57.37" cy="333.80" r="0.80" fill="none" stroke="#b4b4b4" stroke-width="0.35"/>
<circle cx="53.62" cy="305.90" r="0.80" fill="none" stroke="#b4b4b4" stroke-width="0.35"/>
<circle cx="58.43" cy="307.06" r="0.80" fill="none" stroke="#b4b4b4" stroke-width="0.35"/>
<circle cx="57.03" cy="263.66" r="0.80" fill="none" stroke="#b4b4b4" stroke-width="0.35"/>
<circle cx="57.37" cy="357.51" r="0.80" fill="none" stroke="#b4b4b4" stroke-width="0.35"/>
<circle cx="55.98" cy="345.53" r="0.80" fill="none" stroke="#b4b4b4" stroke-width="0.35"/>
<circle cx="53.14" cy="285.58" r="0.80" fill="none" stroke="#b4b4b4" stroke-width="0.35"/>
<circle cx="53.16" cy="295.27" r="0.80" fill="none" stroke="#b4b4b4" stroke-width="0.35"/>
<circle cx="56.57" cy="255.86" r="0.80" fill="none" stroke="#b4b4b4" stroke-width="0.35"/>
<circle cx="57.46" cy="361.22" r="0.80" fill="none" stroke="#b4b4b4" stroke-width="0.35"/>
<circle cx="55.37" cy="373.43" r="0.80" fill="none" stroke="#b4b4b4" stroke-width="0.35"/>
<circle cx="52.95" cy="291.72" r="0.80" fill="none" stroke="#b4b4b4" stroke-width="0.35"/>
<circle cx="64.30" cy="334.19" r="0.80" fill="none" stroke="#b4b4b4" stroke-width="0.35"/>
<circle cx="57.09" cy="377.81" r="0.80" fill="none" stroke="#b4b4b4" stroke-width="0.35"/>
<circle cx="61.38" cy="307.40" r="0.80" fill="none" stroke="#b4b4b4" stroke-width="0.35"/>
<circle cx="61.62" cy="259.55" r="0.80" fill="none" stroke="#b4b4b4" stroke-width="0.35"/>
<circle cx="58.39" cy="374.54" r="0.80" fill="none" stroke="#b4b4b4" stroke-width="0.35"/>
<circle cx="58.47" cy="255.12" r="0.80" fill="none" stroke="#b4b4b4" stroke-width="0.35"/>
<circle cx="57.22" cy="392.46" r="0.80" fill="none" stroke="#b4b4b4" stroke-width="0.35"/>
<circle cx="61.14" cy="349.55" r="0.80" fill="none" stroke="#b4b4b4" stroke-width="0.35"/>
<circle cx="50.29" cy="296.33" r="0.80" fill="none" stroke="#b4b4b4" stroke-width="0.35"/>
<circle cx="63.92" cy="251.00" r="0.80" fill="none" stroke="#b4b4b4" stroke-width="0.35"/>
<circle cx="55.99" cy="378.04" r="0.80" fill="none" stroke="#b4b4b4" stroke-width="0.35"/>
<circle cx="56.69" cy="261.80" r="0.80" fill="none" stroke="#b4b4b4" stroke-width="0.35"/>
<circle cx="55.59" cy="307.54" r="0.80" fill="none" stroke="#b4b4b4" stroke-width="0.35"/>
<circle cx="55.11" cy="351.69" r="0.80" fill="none" stroke="#b4b4b4" stroke-width="0.35"/>
<circle cx="58.02" cy="380.07" r="0.80" fill="none" stroke="#b4b4b4" stroke-width="0.35"/>
<circle cx="56.41" cy="397.37" r="0.80" fill="none" stroke="#b4b4b4" stroke-width="0.35"/>
<circle cx="64.20" cy="258.37" r="0.80" fill="none" stroke="#b4b4b4" stroke-width="0.35"/>
<circle cx="58.03" cy="385.53" r="0.80" fill="none" stroke="#b4b4b4" stroke-width="0.35"/>
<circle cx="56.36" cy="354.86" r="0.80" fill="none" stroke="#b4b4b4" stroke-width="0.35"/>
<circle cx="59.65" cy="281.44" r="0.80" fill="none" stroke="#b4b4b4" stroke-width="0.35"/>
<circle cx="54.92" cy="393.54" r="0.80" fill="none" stroke="#b4b4b4" stroke-width="0.35"/>
<circle cx="51.95" cy="337.59" r="0.80" fill="none" stroke="#b4b4b4" stroke-width="0.35"/>
<circle cx="60.02" cy="377.09" r="0.80" fill="none" stroke="#b4b4b4" stroke-width="0.35"/>
<circle cx="57.24" cy="353.77" r="0.80" fill="none" stroke="#b4b4b4" stroke-width="0.35"/>
<circle cx="56.33" cy="346.98" r="0.80" fill="none" stroke="#b4b4b4" stroke-width="0.35"/>
<circle cx="56.92" cy="283.09" r="0.80" fill="none" stroke="#b4b4b4" stroke-width="0.35"/>
<circle cx="56.19" cy="394.88" r="0.80" fill="none" stroke="#b4b4b4" stroke-width="0.35"/>
<circle cx="58.03" cy="392.22" r="0.80" fill="none" stroke="#b4b4b4" stroke-width="0.35"/>
<circle cx="54.75" cy="293.91" r="0.80" fill="none" stroke="#b4b4b4" stroke-width="0.35"/>
<circle cx="53.65" cy="268.27" r="0.80" fill="none" stroke="#b4b4b4" stroke-width="0.35"/>
<circle cx="62.28" cy="257.99" r="0.80" fill="none" stroke="#b4b4b4" stroke-width="0.35"/>
<circle cx="56.24" cy="315.19" r="0.80" fill="none" stroke="#b4b4b4" stroke-width="0.35"/>
<circle cx="60.45" cy="360.56" r="0.80" fill="none" stroke="#b4b4b4" stroke-width="0.35"/>
<circle cx="60.46" cy="366.20" r="0.80" fill="none" stroke="#b4b4b4" stroke-width="0.35"/>
<circle cx="57.04" cy="265.17" r="0.80" fill="none" stroke="#b4b4b4" stroke-width="0.35"/>
<circle cx="57.62" cy="312.46" r="0.80" fill="none" stroke="#b4b4b4" stroke-width="0.35"/>
<circle cx="56.58" cy="371.80" r="0.80" fill="none" stroke="#b4b4b4" stroke-width="0.35"/>
<circle cx="64.08" cy="337.33" r="0.80" fill="none" stroke="#b4b4b4" stroke-width="0.35"/>
<circle cx="55.00" cy="350.54" r="0.80" fill="none" stroke="#b4b4b4" stroke-width="0.35"/>
<circle cx="54.47" cy="369.52" r="0.80" fill="none" stroke="#b4b4b4" stroke-width="0.35"/>
<circle cx="60.59" cy="263.15" r="0.80" fill="none" stroke="#b4b4b4" stroke-width="0.35"/>
<circle cx="57.81" cy="378.36" r="0.80" fill="none" stroke="#b4b4b4" stroke-width="0.35"/>
<circle cx="47.02" cy="281.24" r="0.80" fill="none" stroke="#b4b4b4" stroke-width="0.35"/>
<circle cx="52.80" cy="289.65" r="0.80" fill="none" stroke="#b4b4b4" stroke-width="0.35"/>
<circle cx="55.43" cy="360.13" r="0.80" fill="none" stroke="#b4b4b4" stroke-width="0.35"/>
<circle cx="56.94" cy="354.11" r="0.80" fill="none" stroke="#b4b4b4" stroke-width="0.35"/>
<circle cx="55.93" cy="376.54" r="0.80" fill="none" stroke="#b4b4b4" stroke-width="0.35"/>
<circle cx="56.77" cy="292.98" r="0.80" fill="none" stroke="#b4b4b4" stroke-width="0.35"/>
<circle cx="57.44" cy="394.97" r="0.80" fill="none" stroke="#b4b4b4" stroke-width="0.35"/>
<circle cx="52.14" cy="325.39" r="0.80" fill="none" stroke="#b4b4b4" stroke-width="0.35"/>
<circle cx="62.28" cy="270.86" r="0.80" fill="none" stroke="#b4b4b4" stroke-width="0.35"/>
<circle cx="56.62" cy="389.97" r="0.80" fill="none" stroke="#b4b4b4" stroke-width="0.35"/>
<circle cx="53.71" cy="388.63" r="0.80" fill="none" stroke="#b4b4b4" stroke-width="0.35"/>
<circle cx="56.78" cy="341.60" r="0.80" fill="none" stroke="#b4b4b4" stroke-width="0.35"/>
<circle cx="54.19" cy="371.76" r="0.80" fill="none" stroke="#b4b4b4" stroke-width="0.35"/>
<circle cx="59.94" cy="305.96" r="0.80" fill="none" stroke="#b4b4b4" stroke-width="0.35"/>
<circle cx="61.29" cy="293.80" r="0.80" fill="none" stroke="#b4b4b4" stroke-width="0.35"/>
<circle cx="54.38" cy="385.83" r="0.80" fill="none" stroke="#b4b4b4" stroke-width="0.35"/>
<circle cx="54.45" cy="278.16" r="0.80" fill="none" stroke="#b4b4b4" stroke-width="0.35"/>
<circle cx="59.92" cy="352.51" r="0.80" fill="none" stroke="#b4b4b4" stroke-width="0.35"/>
<circle cx="57.99" cy="295.44" r="0.80" fill="none" stroke="#b4b4b4" stroke-width="0.35"/>
<circle cx="58.27" cy="370.28" r="0.80" fill="none" stroke="#b4b4b4" stroke-width="0.35"/>
<circle cx="58.68" cy="382.02" r="0.80" fill="none" stroke="#b4b4b4" stroke-width="0.35"/>
<circle cx="54.66" cy="359.17" r="0.80" fill="none" stroke="#b4b4b4" stroke-width="0.35"/>
<circle cx="59.90" cy="349.14" r="0.80" fill="none" stroke="#b4b4b4" stroke-width="0.35"/>
<circle cx="56.62" cy="372.13" r="0.80" fill="none" stroke="#b4b4b4" stroke-width="0.35"/>
<circle cx="62.27" cy="283.66" r="0.80" fill="none" stroke="#b4b4b4" stroke-width="0.35"/>
<circle cx="60.98" cy="281.85" r="0.80" fill="none" stroke="#b4b4b4" stroke-width="0.35"/>
<circle cx="58.34" cy="278.21" r="0.80" fill="none" stroke="#b4b4b4" stroke-width="0.35"/>
<circle cx="56.41" cy="363.73" r="0.80" fill="none" stroke="#b4b4b4" stroke-width="0.35"/>
<circle cx="58.67" cy="386.05" r="0.80" fill="none" stroke="#b4b4b4" stroke-width="0.35"/>
<circle cx="60.07" cy="320.57" r="0.80" fill="none" stroke="#b4b4b4" stroke-width="0.35"/>
<circle cx="53.93" cy="273.84" r="0.80" fill="none" stroke="#b4b4b4" stroke-width="0.35"/>
<circle cx="56.42" cy="341.27" r="0.80" fill="none" stroke="#b4b4b4" stroke-width="0.35"/>
<circle cx="63.39" cy="260.09" r="0.80" fill="none" stroke="#b4b4b4" stroke-width="0.35"/>
<circle cx="57.54" cy="314.72" r="0.80" fill="none" stroke="#b4b4b4" stroke-width="0.35"/>
<circle cx="58.58" cy="383.45" r="0.80" fill="none" stroke="#b4b4b4" stroke-width="0.35"/>
<circle cx="56.65" cy="375.69" r="0.80" fill="none" stroke="#b4b4b4" stroke-width="0.35"/>
<circle cx="62.69" cy="309.61" r="0.80" fill="none" stroke="#b4b4b4" stroke-width="0.35"/>
<circle cx="58.56" cy="375.76" r="0.80" fill="none" stroke="#b4b4b4" stroke-width="0.35"/>
<circle cx="57.04" cy="305.28" r="0.80" fill="none" stroke="#b4b4b4" stroke-width="0.35"/>
<circle cx="56.22" cy="378.09" r="0.80" fill="none" stroke="#b4b4b4" stroke-width="0.35"/>
<circle cx="60.44" cy="285.88" r="0.80" fill="none" stroke="#b4b4b4" stroke-width="0.35"/>
<circle cx="58.25" cy="326.10" r="0.80" fill="none" stroke="#b4b4b4" stroke-width="0.35"/>
<circle cx="57.21" cy="349.26" r="0.80" fill="none" stroke="#b4b4b4" stroke-width="0.35"/>
<circle cx="55.74" cy="325.77" r="0.80" fill="none" stroke="#b4b4b4" stroke-width="0.35"/>
<circle cx="56.07" cy="380.75" r="0.80" fill="none" stroke="#b4b4b4" stroke-width="0.35"/>
<circle cx="53.42" cy="302.48" r="0.80" fill="none" stroke="#b4b4b4" stroke-width="0.35"/>
<circle cx="57.75" cy="361.80" r="0.80" fill="none" stroke="#b4b4b4" stroke-width="0.35"/>
<circle cx="52.73" cy="258.78" r="0.80" fill="none" stroke="#b4b4b4" stroke-width="0.35"/>
<circle cx="59.72" cy="354.78" r="0.80" fill="none" stroke="#b4b4b4" stroke-width="0.35"/>
<circle cx="62.85" cy="346.14" r="0.80" fill="none" stroke="#b4b4b4" stroke-width="0.35"/>
<circle cx="50.35" cy="353.84" r="0.80" fill="none" stroke="#b4b4b4" stroke-width="0.35"/>
<circle cx="56.55" cy="376.56" r="0.80" fill="none" stroke="#b4b4b4" stroke-width="0.35"/>
<circle cx="55.47" cy="397.19" r="0.80" fill="none" stroke="#b4b4b4" stroke-width="0.35"/>
<circle cx="63.01" cy="267.74" r="0.80" fill="none" stroke="#b4b4b4" stroke-width="0.35"/>
<circle cx="42.80" cy="319.20" r="0.80" fill="none" stroke="#b4b4b4" stroke-width="0.35"/>
<circle cx="73.40" cy="311.00" r="0.80" fill="none" stroke="#b4b4b4" stroke-width="0.35"/>
<circle cx="73.40" cy="319.90" r="0.80" fill="none" stroke="#b4b4b4" stroke-width="0.35"/>
<circle cx="67.00" cy="322.70" r="0.80" fill="none" stroke="#b4b4b4" stroke-width="0.35"/>
<circle cx="69.80" cy="377.70" r="0.80" fill="none" stroke="#b4b4b4" stroke-width="0.35"/>
<circle cx="71.40" cy="377.60" r="0.80" fill="none" stroke="#b4b4b4" stroke-width="0.35"/>
<circle cx="199.50" cy="329.90" r="0.80" fill="none" stroke="#b4b4b4" stroke-width="0.35"/>
<circle cx="73.30" cy="317.70" r="0.80" fill="none" stroke="#b4b4b4" stroke-width="0.35"/>
<circle cx="31.40" cy="259.90" r="0.90" fill="#1d7a35" stroke="none" stroke-width="1"/>
<circle cx="44.20" cy="250.70" r="0.90" fill="#1d7a35" stroke="none" stroke-width="1"/>
<circle cx="42.10" cy="253.50" r="0.90" fill="#1d7a35" stroke="none" stroke-width="1"/>
<circle cx="45.60" cy="253.50" r="0.90" fill="#1d7a35" stroke="none" stroke-width="1"/>
<circle cx="42.80" cy="255.60" r="0.90" fill="#1d7a35" stroke="none" stroke-width="1"/>
<circle cx="39.20" cy="259.90" r="0.90" fill="#1d7a35" stroke="none" stroke-width="1"/>
<circle cx="42.10" cy="258.50" r="0.90" fill="#1d7a35" stroke="none" stroke-width="1"/>
<circle cx="40.60" cy="262.00" r="0.90" fill="#1d7a35" stroke="none" stroke-width="1"/>
<circle cx="43.50" cy="263.50" r="0.90" fill="#1d7a35" stroke="none" stroke-width="1"/>
<circle cx="42.10" cy="264.90" r="0.90" fill="#1d7a35" stroke="none" stroke-width="1"/>
<circle cx="38.50" cy="266.30" r="0.90" fill="#1d7a35" stroke="none" stroke-width="1"/>
<circle cx="42.80" cy="267.70" r="0.90" fill="#1d7a35" stroke="none" stroke-width="1"/>
<circle cx="44.90" cy="261.30" r="0.90" fill="#1d7a35" stroke="none" stroke-width="1"/>
<circle cx="45.60" cy="269.20" r="0.90" fill="#1d7a35" stroke="none" stroke-width="1"/>
<circle cx="34.20" cy="273.40" r="0.90" fill="#1d7a35" stroke="none" stroke-width="1"/>
<circle cx="38.50" cy="273.40" r="0.90" fill="#1d7a35" stroke="none" stroke-width="1"/>
<circle cx="39.90" cy="274.10" r="0.90" fill="#1d7a35" stroke="none" stroke-width="1"/>
<circle cx="42.10" cy="276.30" r="0.90" fill="#1d7a35" stroke="none" stroke-width="1"/>
<circle cx="45.60" cy="277.00" r="0.90" fill="#1d7a35" stroke="none" stroke-width="1"/>
<circle cx="44.90" cy="284.10" r="0.90" fill="#1d7a35" stroke="none" stroke-width="1"/>
<circle cx="45.60" cy="291.20" r="0.90" fill="#1d7a35" stroke="none" stroke-width="1"/>
<circle cx="45.60" cy="291.40" r="0.90" fill="#1d7a35" stroke="none" stroke-width="1"/>
<circle cx="44.90" cy="300.20" r="0.90" fill="#1d7a35" stroke="none" stroke-width="1"/>
<circle cx="43.80" cy="257.00" r="0.90" fill="#1d7a35" stroke="none" stroke-width="1"/>
<circle cx="41.50" cy="261.00" r="0.90" fill="#1d7a35" stroke="none" stroke-width="1"/>
<circle cx="44.00" cy="266.00" r="0.90" fill="#1d7a35" stroke="none" stroke-width="1"/>
<circle cx="43.00" cy="270.50" r="0.90" fill="#1d7a35" stroke="none" stroke-width="1"/>
<circle cx="45.30" cy="259.00" r="0.90" fill="#1d7a35" stroke="none" stroke-width="1"/>
<circle cx="41.00" cy="255.00" r="0.90" fill="#1d7a35" stroke="none" stroke-width="1"/>
<circle cx="44.50" cy="273.00" r="0.90" fill="#1d7a35" stroke="none" stroke-width="1"/>
<circle cx="36.50" cy="274.00" r="0.90" fill="#1d7a35" stroke="none" stroke-width="1"/>
<circle cx="43.50" cy="252.00" r="0.90" fill="#1d7a35" stroke="none" stroke-width="1"/>
<circle cx="70.50" cy="256.40" r="0.90" fill="#d7191c" stroke="none" stroke-width="1"/>
<circle cx="73.60" cy="255.40" r="0.90" fill="#d7191c" stroke="none" stroke-width="1"/>
<circle cx="79.10" cy="254.90" r="0.90" fill="#d7191c" stroke="none" stroke-width="1"/>
<circle cx="81.90" cy="258.50" r="0.90" fill="#d7191c" stroke="none" stroke-width="1"/>
<circle cx="72.70" cy="259.90" r="0.90" fill="#d7191c" stroke="none" stroke-width="1"/>
<circle cx="76.90" cy="259.90" r="0.90" fill="#d7191c" stroke="none" stroke-width="1"/>
<circle cx="69.10" cy="261.30" r="0.90" fill="#d7191c" stroke="none" stroke-width="1"/>
<circle cx="74.10" cy="261.30" r="0.90" fill="#d7191c" stroke="none" stroke-width="1"/>
<circle cx="67.00" cy="264.20" r="0.90" fill="#d7191c" stroke="none" stroke-width="1"/>
<circle cx="70.50" cy="264.90" r="0.90" fill="#d7191c" stroke="none" stroke-width="1"/>
<circle cx="72.70" cy="264.90" r="0.90" fill="#d7191c" stroke="none" stroke-width="1"/>
<circle cx="69.10" cy="267.00" r="0.90" fill="#d7191c" stroke="none" stroke-width="1"/>
<circle cx="71.20" cy="266.30" r="0.90" fill="#d7191c" stroke="none" stroke-width="1"/>
<circle cx="71.20" cy="269.20" r="0.90" fill="#d7191c" stroke="none" stroke-width="1"/>
<circle cx="80.50" cy="269.90" r="0.90" fill="#d7191c" stroke="none" stroke-width="1"/>
<circle cx="76.90" cy="272.70" r="0.90" fill="#d7191c" stroke="none" stroke-width="1"/>
<circle cx="81.90" cy="273.40" r="0.90" fill="#d7191c" stroke="none" stroke-width="1"/>
<circle cx="71.20" cy="272.70" r="0.90" fill="#d7191c" stroke="none" stroke-width="1"/>
<circle cx="69.10" cy="274.90" r="0.90" fill="#d7191c" stroke="none" stroke-width="1"/>
<circle cx="70.50" cy="278.40" r="0.90" fill="#d7191c" stroke="none" stroke-width="1"/>
<circle cx="74.10" cy="278.10" r="0.90" fill="#d7191c" stroke="none" stroke-width="1"/>
<circle cx="76.90" cy="278.40" r="0.90" fill="#d7191c" stroke="none" stroke-width="1"/>
<circle cx="82.60" cy="279.10" r="0.90" fill="#d7191c" stroke="none" stroke-width="1"/>
<circle cx="83.60" cy="282.00" r="0.90" fill="#d7191c" stroke="none" stroke-width="1"/>
<circle cx="67.00" cy="284.10" r="0.90" fill="#d7191c" stroke="none" stroke-width="1"/>
<circle cx="73.60" cy="287.70" r="0.90" fill="#d7191c" stroke="none" stroke-width="1"/>
<circle cx="74.80" cy="296.90" r="0.90" fill="#d7191c" stroke="none" stroke-width="1"/>
<circle cx="74.80" cy="296.80" r="0.90" fill="#d7191c" stroke="none" stroke-width="1"/>
<circle cx="72.70" cy="301.10" r="0.90" fill="#d7191c" stroke="none" stroke-width="1"/>
<circle cx="74.50" cy="300.20" r="0.90" fill="#d7191c" stroke="none" stroke-width="1"/>
<circle cx="150.40" cy="252.10" r="0.90" fill="#d7191c" stroke="none" stroke-width="1"/>
<circle cx="161.60" cy="251.40" r="0.90" fill="#d7191c" stroke="none" stroke-width="1"/>
<circle cx="164.60" cy="252.10" r="0.90" fill="#d7191c" stroke="none" stroke-width="1"/>
<circle cx="66.50" cy="262.50" r="0.90" fill="#d7191c" stroke="none" stroke-width="1"/>
<circle cx="68.00" cy="266.00" r="0.90" fill="#d7191c" stroke="none" stroke-width="1"/>
<line x1="46.10" y1="243.50" x2="46.10" y2="404.00" stroke="#555" stroke-width="1.0" stroke-dasharray="2.6,1.5"/>
<line x1="65.10" y1="243.50" x2="65.10" y2="404.00" stroke="#555" stroke-width="1.0" stroke-dasharray="2.6,1.5"/>
<line x1="23.30" y1="306.80" x2="208.30" y2="306.80" stroke="#555" stroke-width="1.0" stroke-dasharray="2.6,1.5"/>
<rect x="23.30" y="243.50" width="185.00" height="160.50" fill="none" stroke="#bdbdbd" stroke-width="1.0" />
<line x1="36.60" y1="404.00" x2="36.60" y2="405.50" stroke="#333" stroke-width="0.6" />
<text x="36.60" y="409.52" font-size="3.4" font-weight="normal" text-anchor="middle" fill="#333"  >−2</text>
<line x1="46.10" y1="404.00" x2="46.10" y2="405.50" stroke="#333" stroke-width="0.6" />
<text x="46.10" y="409.52" font-size="3.4" font-weight="normal" text-anchor="middle" fill="#333"  >−1</text>
<line x1="55.60" y1="404.00" x2="55.60" y2="405.50" stroke="#333" stroke-width="0.6" />
<text x="55.60" y="409.52" font-size="3.4" font-weight="normal" text-anchor="middle" fill="#333"  >0</text>
<line x1="65.10" y1="404.00" x2="65.10" y2="405.50" stroke="#333" stroke-width="0.6" />
<text x="65.10" y="409.52" font-size="3.4" font-weight="normal" text-anchor="middle" fill="#333"  >1</text>
<line x1="74.60" y1="404.00" x2="74.60" y2="405.50" stroke="#333" stroke-width="0.6" />
<text x="74.60" y="409.52" font-size="3.4" font-weight="normal" text-anchor="middle" fill="#333"  >2</text>
<line x1="93.60" y1="404.00" x2="93.60" y2="405.50" stroke="#333" stroke-width="0.6" />
<text x="93.60" y="409.52" font-size="3.4" font-weight="normal" text-anchor="middle" fill="#333"  >4</text>
<line x1="131.60" y1="404.00" x2="131.60" y2="405.50" stroke="#333" stroke-width="0.6" />
<text x="131.60" y="409.52" font-size="3.4" font-weight="normal" text-anchor="middle" fill="#333"  >8</text>
<line x1="207.60" y1="404.00" x2="207.60" y2="405.50" stroke="#333" stroke-width="0.6" />
<text x="207.60" y="409.52" font-size="3.4" font-weight="normal" text-anchor="middle" fill="#333"  >16</text>
<line x1="21.80" y1="397.50" x2="23.30" y2="397.50" stroke="#333" stroke-width="0.6" />
<text x="21.00" y="399.44" font-size="5.4" font-weight="bold" text-anchor="end" fill="#222" stroke="#222" stroke-width="0.26" >0.0</text>
<line x1="21.80" y1="352.15" x2="23.30" y2="352.15" stroke="#333" stroke-width="0.6" />
<text x="21.00" y="354.09" font-size="5.4" font-weight="bold" text-anchor="end" fill="#222" stroke="#222" stroke-width="0.26" >0.5</text>
<line x1="21.80" y1="306.80" x2="23.30" y2="306.80" stroke="#333" stroke-width="0.6" />
<text x="21.00" y="308.74" font-size="5.4" font-weight="bold" text-anchor="end" fill="#222" stroke="#222" stroke-width="0.26" >1.0</text>
<line x1="21.80" y1="261.45" x2="23.30" y2="261.45" stroke="#333" stroke-width="0.6" />
<text x="21.00" y="263.39" font-size="5.4" font-weight="bold" text-anchor="end" fill="#222" stroke="#222" stroke-width="0.26" >1.5</text>
<text x="111.80" y="417.86" font-size="6.55" font-weight="bold" text-anchor="middle" fill="#1a1a1a" stroke="#1a1a1a" stroke-width="0.26" >Log2FC</text>
<g transform="translate(8.3,320.9) rotate(-90)">
<text x="0.00" y="2.05" font-size="5.7" font-weight="bold" text-anchor="middle" fill="#222" stroke="#222" stroke-width="0.26" >Variable Importance in Projection (VIP)</text>
</g>
<rect x="162.30" y="378.80" width="46.00" height="25.20" fill="#fff" stroke="#999" stroke-width="0.6" />
<circle cx="169.50" cy="384.30" r="0.90" fill="#1d7a35" stroke="none" stroke-width="1"/>
<circle cx="169.50" cy="391.50" r="0.90" fill="none" stroke="#b8b8b8" stroke-width="0.5"/>
<circle cx="169.50" cy="398.30" r="0.90" fill="#d7191c" stroke="none" stroke-width="1"/>
<text x="174.00" y="386.28" font-size="5.5" font-weight="bold" text-anchor="start" fill="#1a1a1a" stroke="#1a1a1a" stroke-width="0.26" >Down: 38</text>
<text x="174.00" y="393.48" font-size="5.5" font-weight="bold" text-anchor="start" fill="#1a1a1a" stroke="#1a1a1a" stroke-width="0.26" >Insignificant: 440</text>
<text x="174.00" y="400.28" font-size="5.5" font-weight="bold" text-anchor="start" fill="#1a1a1a" stroke="#1a1a1a" stroke-width="0.26" >Up: 37</text>
<line x1="208.30" y1="378.80" x2="208.30" y2="404.00" stroke="#b0b0b0" stroke-width="1.1" />
<rect x="220" y="225" width="330" height="197" fill="#fff"/>
<clipPath id="dclip"><rect x="221" y="225" width="330" height="197"/></clipPath>
<g clip-path="url(#dclip)">
<text x="220.80" y="247.20" font-size="10" font-weight="bold" text-anchor="start" fill="#1a1a1a" stroke="#1a1a1a" stroke-width="0.26" >D</text>
<text x="392.80" y="253.42" font-size="7.55" font-weight="bold" text-anchor="start" fill="#1a1a1a" stroke="#1a1a1a" stroke-width="0.26" >Statistics of KEGG Enrichment</text>
<rect x="392.50" y="258.90" width="124.50" height="136.30" fill="#fff" stroke="#b0b0b0" stroke-width="1.0" />
<text x="390.20" y="265.28" font-size="6.6" font-weight="bold" text-anchor="end" fill="#222" stroke="#222" stroke-width="0.26" >Ubiquinone and other terpenoid−quinone biosynthesis</text>
<line x1="390.80" y1="262.90" x2="392.50" y2="262.90" stroke="#333" stroke-width="0.6" />
<text x="390.20" y="272.03" font-size="6.6" font-weight="bold" text-anchor="end" fill="#222" stroke="#222" stroke-width="0.26" >Thiamine metabolism</text>
<line x1="390.80" y1="269.65" x2="392.50" y2="269.65" stroke="#333" stroke-width="0.6" />
<text x="390.20" y="278.78" font-size="6.6" font-weight="bold" text-anchor="end" fill="#222" stroke="#222" stroke-width="0.26" >Sulfur relay system</text>
<line x1="390.80" y1="276.40" x2="392.50" y2="276.40" stroke="#333" stroke-width="0.6" />
<text x="390.20" y="285.53" font-size="6.6" font-weight="bold" text-anchor="end" fill="#222" stroke="#222" stroke-width="0.26" >Stilbenoid, diarylheptanoid and gingerol biosynthesis</text>
<line x1="390.80" y1="283.15" x2="392.50" y2="283.15" stroke="#333" stroke-width="0.6" />
<text x="390.20" y="292.28" font-size="6.6" font-weight="bold" text-anchor="end" fill="#222" stroke="#222" stroke-width="0.26" >Starch and sucrose metabolism</text>
<line x1="390.80" y1="289.90" x2="392.50" y2="289.90" stroke="#333" stroke-width="0.6" />
<text x="390.20" y="299.03" font-size="6.6" font-weight="bold" text-anchor="end" fill="#222" stroke="#222" stroke-width="0.26" >Photosynthesis</text>
<line x1="390.80" y1="296.65" x2="392.50" y2="296.65" stroke="#333" stroke-width="0.6" />
<text x="390.20" y="305.78" font-size="6.6" font-weight="bold" text-anchor="end" fill="#222" stroke="#222" stroke-width="0.26" >Phenylpropanoid biosynthesis</text>
<line x1="390.80" y1="303.40" x2="392.50" y2="303.40" stroke="#333" stroke-width="0.6" />
<text x="390.20" y="312.53" font-size="6.6" font-weight="bold" text-anchor="end" fill="#222" stroke="#222" stroke-width="0.26" >Phenylalanine, tyrosine and tryptophan biosynthesis</text>
<line x1="390.80" y1="310.15" x2="392.50" y2="310.15" stroke="#333" stroke-width="0.6" />
<text x="390.20" y="319.28" font-size="6.6" font-weight="bold" text-anchor="end" fill="#222" stroke="#222" stroke-width="0.26" >Pentose phosphate pathway</text>
<line x1="390.80" y1="316.90" x2="392.50" y2="316.90" stroke="#333" stroke-width="0.6" />
<text x="390.20" y="326.03" font-size="6.6" font-weight="bold" text-anchor="end" fill="#222" stroke="#222" stroke-width="0.26" >Pentose and glucuronate interconversions</text>
<line x1="390.80" y1="323.65" x2="392.50" y2="323.65" stroke="#333" stroke-width="0.6" />
<text x="390.20" y="332.78" font-size="6.6" font-weight="bold" text-anchor="end" fill="#222" stroke="#222" stroke-width="0.26" >Inositol phosphate metabolism</text>
<line x1="390.80" y1="330.40" x2="392.50" y2="330.40" stroke="#333" stroke-width="0.6" />
<text x="390.20" y="339.53" font-size="6.6" font-weight="bold" text-anchor="end" fill="#222" stroke="#222" stroke-width="0.26" >Fructose and mannose metabolism</text>
<line x1="390.80" y1="337.15" x2="392.50" y2="337.15" stroke="#333" stroke-width="0.6" />
<text x="390.20" y="346.28" font-size="6.6" font-weight="bold" text-anchor="end" fill="#222" stroke="#222" stroke-width="0.26" >Flavonoid biosynthesis</text>
<line x1="390.80" y1="343.90" x2="392.50" y2="343.90" stroke="#333" stroke-width="0.6" />
<text x="390.20" y="353.03" font-size="6.6" font-weight="bold" text-anchor="end" fill="#222" stroke="#222" stroke-width="0.26" >Citrate cycle (TCA cycle)</text>
<line x1="390.80" y1="350.65" x2="392.50" y2="350.65" stroke="#333" stroke-width="0.6" />
<text x="390.20" y="359.78" font-size="6.6" font-weight="bold" text-anchor="end" fill="#222" stroke="#222" stroke-width="0.26" >Carbon metabolism</text>
<line x1="390.80" y1="357.40" x2="392.50" y2="357.40" stroke="#333" stroke-width="0.6" />
<text x="390.20" y="366.53" font-size="6.6" font-weight="bold" text-anchor="end" fill="#222" stroke="#222" stroke-width="0.26" >Carbon fixation in photosynthetic organisms</text>
<line x1="390.80" y1="364.15" x2="392.50" y2="364.15" stroke="#333" stroke-width="0.6" />
<text x="390.20" y="373.28" font-size="6.6" font-weight="bold" text-anchor="end" fill="#222" stroke="#222" stroke-width="0.26" >Caffeine metabolism</text>
<line x1="390.80" y1="370.90" x2="392.50" y2="370.90" stroke="#333" stroke-width="0.6" />
<text x="390.20" y="380.03" font-size="6.6" font-weight="bold" text-anchor="end" fill="#222" stroke="#222" stroke-width="0.26" >C5−Branched dibasic acid metabolism</text>
<line x1="390.80" y1="377.65" x2="392.50" y2="377.65" stroke="#333" stroke-width="0.6" />
<text x="390.20" y="386.78" font-size="6.6" font-weight="bold" text-anchor="end" fill="#222" stroke="#222" stroke-width="0.26" >Benzoxazinoid biosynthesis</text>
<line x1="390.80" y1="384.40" x2="392.50" y2="384.40" stroke="#333" stroke-width="0.6" />
<text x="390.20" y="393.53" font-size="6.6" font-weight="bold" text-anchor="end" fill="#222" stroke="#222" stroke-width="0.26" >2−Oxocarboxylic acid metabolism</text>
<line x1="390.80" y1="391.15" x2="392.50" y2="391.15" stroke="#333" stroke-width="0.6" />
<circle cx="430.20" cy="263.30" r="1.90" fill="#e94e1f" stroke="none" stroke-width="1"/>
<circle cx="430.20" cy="270.05" r="1.90" fill="#e94e1f" stroke="none" stroke-width="1"/>
<circle cx="402.20" cy="276.80" r="0.80" fill="#8cc63e" stroke="none" stroke-width="1"/>
<circle cx="512.10" cy="283.55" r="0.70" fill="#e8261b" stroke="none" stroke-width="1"/>
<circle cx="443.80" cy="290.30" r="1.90" fill="#e9421d" stroke="none" stroke-width="1"/>
<circle cx="512.10" cy="297.05" r="0.70" fill="#e8261b" stroke="none" stroke-width="1"/>
<circle cx="427.70" cy="303.80" r="3.30" fill="#e8161b" stroke="none" stroke-width="1"/>
<circle cx="400.10" cy="310.55" r="1.90" fill="#a3cf2c" stroke="none" stroke-width="1"/>
<circle cx="420.00" cy="317.30" r="0.90" fill="#e9ac2e" stroke="none" stroke-width="1"/>
<circle cx="430.20" cy="324.05" r="1.90" fill="#e9541f" stroke="none" stroke-width="1"/>
<circle cx="420.10" cy="330.80" r="0.90" fill="#e9ac2e" stroke="none" stroke-width="1"/>
<circle cx="420.10" cy="337.55" r="0.90" fill="#e9ac2e" stroke="none" stroke-width="1"/>
<circle cx="412.50" cy="344.30" r="3.60" fill="#e8261b" stroke="none" stroke-width="1"/>
<circle cx="443.80" cy="351.05" r="2.00" fill="#e9421d" stroke="none" stroke-width="1"/>
<circle cx="398.30" cy="357.80" r="2.00" fill="#a3cf2c" stroke="none" stroke-width="1"/>
<circle cx="420.10" cy="364.55" r="0.90" fill="#e9ac2e" stroke="none" stroke-width="1"/>
<circle cx="420.10" cy="371.30" r="0.90" fill="#e9ac2e" stroke="none" stroke-width="1"/>
<circle cx="420.10" cy="378.05" r="0.90" fill="#e9ac2e" stroke="none" stroke-width="1"/>
<circle cx="402.40" cy="384.80" r="0.80" fill="#8cc63e" stroke="none" stroke-width="1"/>
<circle cx="398.30" cy="391.55" r="2.30" fill="#a3cf2c" stroke="none" stroke-width="1"/>
<line x1="408.70" y1="395.20" x2="408.70" y2="396.70" stroke="#333" stroke-width="0.6" />
<text x="408.70" y="402.79" font-size="5.8" font-weight="bold" text-anchor="middle" fill="#222" stroke="#222" stroke-width="0.26" >0.25</text>
<line x1="443.40" y1="395.20" x2="443.40" y2="396.70" stroke="#333" stroke-width="0.6" />
<text x="443.40" y="402.79" font-size="5.8" font-weight="bold" text-anchor="middle" fill="#222" stroke="#222" stroke-width="0.26" >0.50</text>
<line x1="478.10" y1="395.20" x2="478.10" y2="396.70" stroke="#333" stroke-width="0.6" />
<text x="478.10" y="402.79" font-size="5.8" font-weight="bold" text-anchor="middle" fill="#222" stroke="#222" stroke-width="0.26" >0.75</text>
<line x1="512.80" y1="395.20" x2="512.80" y2="396.70" stroke="#333" stroke-width="0.6" />
<text x="512.80" y="402.79" font-size="5.8" font-weight="bold" text-anchor="middle" fill="#222" stroke="#222" stroke-width="0.26" >1.00</text>
<text x="457.50" y="412.06" font-size="6.55" font-weight="bold" text-anchor="middle" fill="#1a1a1a" stroke="#1a1a1a" stroke-width="0.26" >Rich factor</text>
<text x="525.70" y="276.82" font-size="5.6" font-weight="bold" text-anchor="start" fill="#1a1a1a" stroke="#1a1a1a" stroke-width="0.26" >Pvalue</text>
<rect x="525.70" y="279.40" width="7.50" height="39.10" fill="url(#pv)" stroke="none" stroke-width="1" />
<text x="536.00" y="283.07" font-size="5.2" font-weight="bold" text-anchor="start" fill="#1a1a1a" stroke="#1a1a1a" stroke-width="0.26" >1.00</text>
<text x="536.00" y="292.37" font-size="5.2" font-weight="bold" text-anchor="start" fill="#1a1a1a" stroke="#1a1a1a" stroke-width="0.26" >0.75</text>
<text x="536.00" y="301.57" font-size="5.2" font-weight="bold" text-anchor="start" fill="#1a1a1a" stroke="#1a1a1a" stroke-width="0.26" >0.50</text>
<text x="536.00" y="310.57" font-size="5.2" font-weight="bold" text-anchor="start" fill="#1a1a1a" stroke="#1a1a1a" stroke-width="0.26" >0.25</text>
<text x="536.00" y="319.67" font-size="5.2" font-weight="bold" text-anchor="start" fill="#1a1a1a" stroke="#1a1a1a" stroke-width="0.26" >0.00</text>
<text x="525.50" y="332.72" font-size="5.6" font-weight="bold" text-anchor="start" fill="#1a1a1a" stroke="#1a1a1a" stroke-width="0.26" >number</text>
<circle cx="530.10" cy="339.20" r="0.60" fill="#111" stroke="none" stroke-width="1"/>
<text x="536.10" y="341.07" font-size="5.2" font-weight="bold" text-anchor="start" fill="#1a1a1a" stroke="#1a1a1a" stroke-width="0.26" >1</text>
<circle cx="530.10" cy="346.96" r="1.70" fill="#111" stroke="none" stroke-width="1"/>
<text x="536.10" y="348.83" font-size="5.2" font-weight="bold" text-anchor="start" fill="#1a1a1a" stroke="#1a1a1a" stroke-width="0.26" >2</text>
<circle cx="530.10" cy="354.72" r="2.20" fill="#111" stroke="none" stroke-width="1"/>
<text x="536.10" y="356.59" font-size="5.2" font-weight="bold" text-anchor="start" fill="#1a1a1a" stroke="#1a1a1a" stroke-width="0.26" >3</text>
<circle cx="530.10" cy="362.48" r="2.50" fill="#111" stroke="none" stroke-width="1"/>
<text x="536.10" y="364.35" font-size="5.2" font-weight="bold" text-anchor="start" fill="#1a1a1a" stroke="#1a1a1a" stroke-width="0.26" >4</text>
<circle cx="530.10" cy="370.24" r="2.80" fill="#111" stroke="none" stroke-width="1"/>
<text x="536.10" y="372.11" font-size="5.2" font-weight="bold" text-anchor="start" fill="#1a1a1a" stroke="#1a1a1a" stroke-width="0.26" >5</text>
<circle cx="530.10" cy="378.00" r="3.20" fill="#111" stroke="none" stroke-width="1"/>
<text x="536.10" y="379.87" font-size="5.2" font-weight="bold" text-anchor="start" fill="#1a1a1a" stroke="#1a1a1a" stroke-width="0.26" >6</text>
</g>
</svg></body></html>
